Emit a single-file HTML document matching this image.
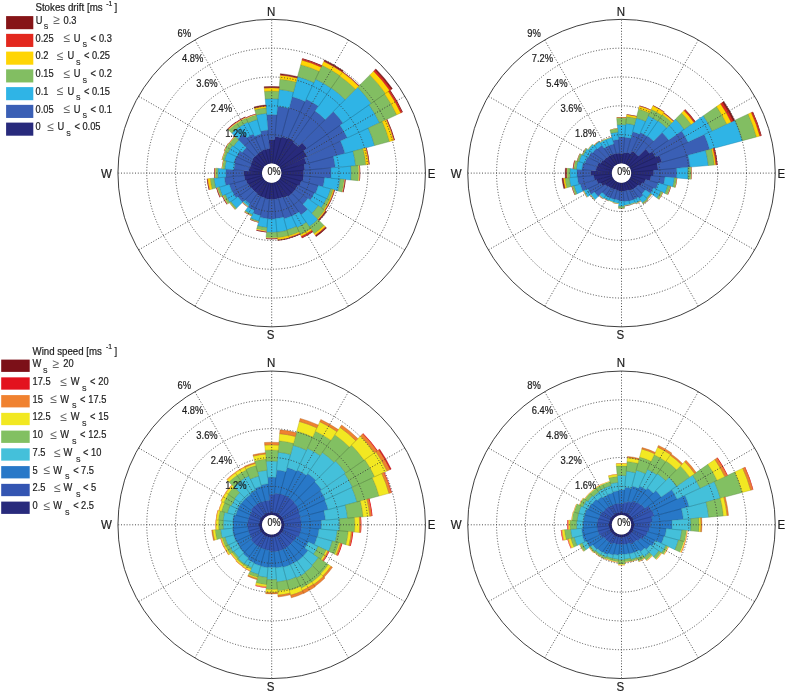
<!DOCTYPE html>
<html><head><meta charset="utf-8"><title>Stokes drift and wind speed roses</title>
<style>
html,body{margin:0;padding:0;background:#fff;overflow:hidden}
svg{display:block}
text{font-family:"Liberation Sans","DejaVu Sans",sans-serif;fill:#1c1c1c;stroke:#1c1c1c;stroke-width:0.2px}
.c{font-size:12.4px;text-anchor:middle}
.z{font-size:10px;text-anchor:middle}
.p{font-size:10px;text-anchor:end}
.l{font-size:10px}
.m{font-size:13px;fill:#666;stroke:none}
.s{font-size:7.2px}
.u{font-size:7px}
.g{fill:none;stroke:#383838;stroke-width:0.9;stroke-dasharray:1 1.8}
.b{stroke-width:0.4;stroke-linejoin:miter}
</style></head>
<body>
<svg width="785" height="692" viewBox="0 0 785 692">
<rect width="785" height="692" fill="#fff"/>
<g>
<path class="b" fill="#282a7c" stroke="#1c1e59" d="M268.78 139.73A33.5 33.5 0 0 1 274.62 139.73L272.55 163.44A9.7 9.7 0 0 0 270.85 163.44ZM274.9 136.54A36.7 36.7 0 0 1 281.2 137.65L274.21 163.73A9.7 9.7 0 0 0 272.55 163.44ZM281.48 136.59A37.8 37.8 0 0 1 287.67 138.84L275.8 164.31A9.7 9.7 0 0 0 274.21 163.73ZM288.14 137.84A38.9 38.9 0 0 1 294.01 141.23L277.26 165.15A9.7 9.7 0 0 0 275.8 164.31ZM293.21 142.38A37.5 37.5 0 0 1 298.22 146.58L278.56 166.24A9.7 9.7 0 0 0 277.26 165.15ZM302.11 142.69A43 43 0 0 1 306.92 148.44L279.65 167.54A9.7 9.7 0 0 0 278.56 166.24ZM303.65 150.73A39 39 0 0 1 307.05 156.62L280.49 169A9.7 9.7 0 0 0 279.65 167.54ZM304.33 157.89A36 36 0 0 1 306.47 163.78L281.07 170.59A9.7 9.7 0 0 0 280.49 169ZM303.87 164.48A33.3 33.3 0 0 1 304.87 170.2L281.36 172.25A9.7 9.7 0 0 0 281.07 170.59ZM303.58 170.31A32 32 0 0 1 303.58 175.89L281.36 173.95A9.7 9.7 0 0 0 281.36 172.25ZM303.58 175.89A32 32 0 0 1 302.61 181.38L281.07 175.61A9.7 9.7 0 0 0 281.36 173.95ZM301.16 180.99A30.5 30.5 0 0 1 299.34 185.99L280.49 177.2A9.7 9.7 0 0 0 281.07 175.61ZM297.8 185.27A28.8 28.8 0 0 1 295.29 189.62L279.65 178.66A9.7 9.7 0 0 0 280.49 177.2ZM295.21 189.56A28.7 28.7 0 0 1 291.99 193.39L278.56 179.96A9.7 9.7 0 0 0 279.65 178.66ZM291.92 193.32A28.6 28.6 0 0 1 288.1 196.53L277.26 181.05A9.7 9.7 0 0 0 278.56 179.96ZM287.47 195.63A27.5 27.5 0 0 1 283.32 198.02L275.8 181.89A9.7 9.7 0 0 0 277.26 181.05ZM282.86 197.03A26.4 26.4 0 0 1 278.53 198.6L274.21 182.47A9.7 9.7 0 0 0 275.8 181.89ZM278.53 198.6A26.4 26.4 0 0 1 274 199.4L272.55 182.76A9.7 9.7 0 0 0 274.21 182.47ZM274 199.4A26.4 26.4 0 0 1 269.4 199.4L270.85 182.76A9.7 9.7 0 0 0 272.55 182.76ZM269.41 199.3A26.3 26.3 0 0 1 264.89 198.5L269.19 182.47A9.7 9.7 0 0 0 270.85 182.76ZM265 198.12A25.9 25.9 0 0 1 260.75 196.57L267.6 181.89A9.7 9.7 0 0 0 269.19 182.47ZM260.84 196.39A25.7 25.7 0 0 1 256.96 194.15L266.14 181.05A9.7 9.7 0 0 0 267.6 181.89ZM257.36 193.58A25 25 0 0 1 254.02 190.78L264.84 179.96A9.7 9.7 0 0 0 266.14 181.05ZM254.02 190.78A25 25 0 0 1 251.22 187.44L263.75 178.66A9.7 9.7 0 0 0 264.84 179.96ZM250.57 187.9A25.8 25.8 0 0 1 248.32 184L262.91 177.2A9.7 9.7 0 0 0 263.75 178.66ZM247.68 184.3A26.5 26.5 0 0 1 246.1 179.96L262.33 175.61A9.7 9.7 0 0 0 262.91 177.2ZM245.04 180.24A27.6 27.6 0 0 1 244.21 175.51L262.04 173.95A9.7 9.7 0 0 0 262.33 175.61ZM243.71 175.55A28.1 28.1 0 0 1 243.71 170.65L262.04 172.25A9.7 9.7 0 0 0 262.04 173.95ZM248.79 171.1A23 23 0 0 1 249.48 167.15L262.33 170.59A9.7 9.7 0 0 0 262.04 172.25ZM250.06 167.3A22.4 22.4 0 0 1 251.4 163.63L262.91 169A9.7 9.7 0 0 0 262.33 170.59ZM250.85 163.38A23 23 0 0 1 252.86 159.91L263.75 167.54A9.7 9.7 0 0 0 262.91 169ZM252.29 159.51A23.7 23.7 0 0 1 254.94 156.34L264.84 166.24A9.7 9.7 0 0 0 263.75 167.54ZM255.08 156.48A23.5 23.5 0 0 1 258.22 153.85L266.14 165.15A9.7 9.7 0 0 0 264.84 166.24ZM257.93 153.44A24 24 0 0 1 261.56 151.35L267.6 164.31A9.7 9.7 0 0 0 266.14 165.15ZM261.26 150.71A24.7 24.7 0 0 1 265.31 149.24L269.19 163.73A9.7 9.7 0 0 0 267.6 164.31ZM265.36 149.43A24.5 24.5 0 0 1 269.56 148.69L270.85 163.44A9.7 9.7 0 0 0 269.19 163.73Z"/>
<path class="b" fill="#3a5fb5" stroke="#294482" d="M266.6 114.82A58.5 58.5 0 0 1 276.8 114.82L274.62 139.73A33.5 33.5 0 0 0 268.78 139.73ZM277.54 106.35A67 67 0 0 1 289.04 108.38L281.2 137.65A36.7 36.7 0 0 0 274.9 136.54ZM292.15 96.79A79 79 0 0 1 305.09 101.5L287.67 138.84A37.8 37.8 0 0 0 281.48 136.59ZM306.14 99.24A81.5 81.5 0 0 1 318.45 106.34L294.01 141.23A38.9 38.9 0 0 0 288.14 137.84ZM315.12 111.09A75.7 75.7 0 0 1 325.23 119.57L298.22 146.58A37.5 37.5 0 0 0 293.21 142.38ZM333.29 111.51A87.1 87.1 0 0 1 343.05 123.14L306.92 148.44A43 43 0 0 0 302.11 142.69ZM340.02 125.26A83.4 83.4 0 0 1 347.29 137.85L307.05 156.62A39 39 0 0 0 303.65 150.73ZM340.49 141.02A75.9 75.9 0 0 1 345.01 153.46L306.47 163.78A36 36 0 0 0 304.33 157.89ZM333.33 156.59A63.8 63.8 0 0 1 335.26 167.54L304.87 170.2A33.3 33.3 0 0 0 303.87 164.48ZM330.87 167.92A59.4 59.4 0 0 1 330.87 178.28L303.58 175.89A32 32 0 0 0 303.58 170.31ZM324.6 177.73A53.1 53.1 0 0 1 322.99 186.84L302.61 181.38A32 32 0 0 0 303.58 175.89ZM318.35 185.6A48.3 48.3 0 0 1 315.47 193.51L299.34 185.99A30.5 30.5 0 0 0 301.16 180.99ZM314.39 193.01A47.1 47.1 0 0 1 310.28 200.12L295.29 189.62A28.8 28.8 0 0 0 297.8 185.27ZM307.91 198.45A44.2 44.2 0 0 1 302.95 204.35L291.99 193.39A28.7 28.7 0 0 0 295.21 189.56ZM307.76 209.16A51 51 0 0 1 300.95 214.88L288.1 196.53A28.6 28.6 0 0 0 291.92 193.32ZM298.94 212.01A47.5 47.5 0 0 1 291.77 216.15L283.32 198.02A27.5 27.5 0 0 0 287.47 195.63ZM291.69 215.97A47.3 47.3 0 0 1 283.94 218.79L278.53 198.6A26.4 26.4 0 0 0 282.86 197.03ZM283.5 217.15A45.6 45.6 0 0 1 275.67 218.53L274 199.4A26.4 26.4 0 0 0 278.53 198.6ZM275.7 218.83A45.9 45.9 0 0 1 267.7 218.83L269.4 199.4A26.4 26.4 0 0 0 274 199.4ZM267.72 218.63A45.7 45.7 0 0 1 259.87 217.24L264.89 198.5A26.3 26.3 0 0 0 269.41 199.3ZM260.31 215.6A44 44 0 0 1 253.1 212.98L260.75 196.57A25.9 25.9 0 0 0 265 198.12ZM254.25 210.53A41.3 41.3 0 0 1 248.01 206.93L256.96 194.15A25.7 25.7 0 0 0 260.84 196.39ZM250.02 204.06A37.8 37.8 0 0 1 244.97 199.83L254.02 190.78A25 25 0 0 0 257.36 193.58ZM242.57 202.23A41.2 41.2 0 0 1 237.95 196.73L251.22 187.44A25 25 0 0 0 254.02 190.78ZM236.15 197.99A43.4 43.4 0 0 1 232.37 191.44L248.32 184A25.8 25.8 0 0 0 250.57 187.9ZM232 191.61A43.8 43.8 0 0 1 229.39 184.44L246.1 179.96A26.5 26.5 0 0 0 247.68 184.3ZM225.82 185.39A47.5 47.5 0 0 1 224.38 177.24L244.21 175.51A27.6 27.6 0 0 0 245.04 180.24ZM225.97 177.1A45.9 45.9 0 0 1 225.97 169.1L243.71 170.65A28.1 28.1 0 0 0 243.71 175.55ZM233.84 169.79A38 38 0 0 1 234.99 163.26L249.48 167.15A23 23 0 0 0 248.79 171.1ZM233.84 162.95A39.2 39.2 0 0 1 236.17 156.53L251.4 163.63A22.4 22.4 0 0 0 250.06 167.3ZM236.81 156.83A38.5 38.5 0 0 1 240.16 151.02L252.86 159.91A23 23 0 0 0 250.85 163.38ZM242.21 152.45A36 36 0 0 1 246.24 147.64L254.94 156.34A23.7 23.7 0 0 0 252.29 159.51ZM237.83 139.23A47.9 47.9 0 0 1 244.23 133.86L258.22 153.85A23.5 23.5 0 0 0 255.08 156.48ZM246.92 137.71A43.2 43.2 0 0 1 253.44 133.95L261.56 151.35A24 24 0 0 0 257.93 153.44ZM254.58 136.39A40.5 40.5 0 0 1 261.22 133.98L265.31 149.24A24.7 24.7 0 0 0 261.26 150.71ZM260.52 131.37A43.2 43.2 0 0 1 267.93 130.06L269.56 148.69A24.5 24.5 0 0 0 265.36 149.43Z"/>
<path class="b" fill="#2fb4e6" stroke="#2181a5" d="M265.21 98.88A74.5 74.5 0 0 1 278.19 98.88L276.8 114.82A58.5 58.5 0 0 0 266.6 114.82ZM279.02 89.42A84 84 0 0 1 293.44 91.96L289.04 108.38A67 67 0 0 0 277.54 106.35ZM297.56 76.6A99.9 99.9 0 0 1 313.92 82.56L305.09 101.5A79 79 0 0 0 292.15 96.79ZM315.53 79.12A103.7 103.7 0 0 1 331.18 88.15L318.45 106.34A81.5 81.5 0 0 0 306.14 99.24ZM331.35 87.91A104 104 0 0 1 345.24 99.56L325.23 119.57A75.7 75.7 0 0 0 315.12 111.09ZM357.61 87.19A121.5 121.5 0 0 1 371.23 103.41L343.05 123.14A87.1 87.1 0 0 0 333.29 111.51ZM369.18 104.84A119 119 0 0 1 379.55 122.81L347.29 137.85A83.4 83.4 0 0 0 340.02 125.26ZM368.31 128.05A106.6 106.6 0 0 1 374.67 145.51L345.01 153.46A75.9 75.9 0 0 0 340.49 141.02ZM353.13 151.28A84.3 84.3 0 0 1 355.68 165.75L335.26 167.54A63.8 63.8 0 0 0 333.33 156.59ZM351 166.16A79.6 79.6 0 0 1 351 180.04L330.87 178.28A59.4 59.4 0 0 0 330.87 167.92ZM340.14 179.09A68.7 68.7 0 0 1 338.06 190.88L322.99 186.84A53.1 53.1 0 0 0 324.6 177.73ZM330.72 188.91A61.1 61.1 0 0 1 327.08 198.92L315.47 193.51A48.3 48.3 0 0 0 318.35 185.6ZM326.62 198.71A60.6 60.6 0 0 1 321.34 207.86L310.28 200.12A47.1 47.1 0 0 0 314.39 193.01ZM318.31 205.74A56.9 56.9 0 0 1 311.93 213.33L302.95 204.35A44.2 44.2 0 0 0 307.91 198.45ZM318.02 219.42A65.5 65.5 0 0 1 309.27 226.75L300.95 214.88A51 51 0 0 0 307.76 209.16ZM306.29 222.49A60.3 60.3 0 0 1 297.18 227.75L291.77 216.15A47.5 47.5 0 0 0 298.94 212.01ZM296.59 226.48A58.9 58.9 0 0 1 286.94 229.99L283.94 218.79A47.3 47.3 0 0 0 291.69 215.97ZM287.07 230.48A59.4 59.4 0 0 1 276.88 232.27L275.67 218.53A45.6 45.6 0 0 0 283.5 217.15ZM276.88 232.27A59.4 59.4 0 0 1 266.52 232.27L267.7 218.83A45.9 45.9 0 0 0 275.7 218.83ZM266.93 227.59A54.7 54.7 0 0 1 257.54 225.94L259.87 217.24A45.7 45.7 0 0 0 267.72 218.63ZM258.81 221.2A49.8 49.8 0 0 1 250.65 218.23L253.1 212.98A44 44 0 0 0 260.31 215.6ZM252.3 214.7A45.9 45.9 0 0 1 245.37 210.7L248.01 206.93A41.3 41.3 0 0 0 254.25 210.53ZM248.53 206.19A40.4 40.4 0 0 1 243.13 201.67L244.97 199.83A37.8 37.8 0 0 0 250.02 204.06ZM236.49 208.31A49.8 49.8 0 0 1 230.91 201.66L237.95 196.73A41.2 41.2 0 0 0 242.57 202.23ZM229.68 202.52A51.3 51.3 0 0 1 225.21 194.78L232.37 191.44A43.4 43.4 0 0 0 236.15 197.99ZM222.49 196.05A54.3 54.3 0 0 1 219.25 187.15L229.39 184.44A43.8 43.8 0 0 0 232 191.61ZM215.68 188.11A58 58 0 0 1 213.92 178.16L224.38 177.24A47.5 47.5 0 0 0 225.82 185.39ZM217.91 177.81A54 54 0 0 1 217.91 168.39L225.97 169.1A45.9 45.9 0 0 0 225.97 177.1ZM224.68 168.99A47.2 47.2 0 0 1 226.11 160.88L234.99 163.26A38 38 0 0 0 233.84 169.79ZM224.37 160.42A49 49 0 0 1 227.29 152.39L236.17 156.53A39.2 39.2 0 0 0 233.84 162.95ZM228.02 152.73A48.2 48.2 0 0 1 232.22 145.45L240.16 151.02A38.5 38.5 0 0 0 236.81 156.83ZM233.36 146.26A46.8 46.8 0 0 1 238.61 140.01L246.24 147.64A36 36 0 0 0 242.21 152.45ZM231.68 133.08A56.6 56.6 0 0 1 239.24 126.74L244.23 133.86A47.9 47.9 0 0 0 237.83 139.23ZM239.35 126.9A56.4 56.4 0 0 1 247.86 121.98L253.44 133.95A43.2 43.2 0 0 0 246.92 137.71ZM248.24 122.8A55.5 55.5 0 0 1 257.34 119.49L261.22 133.98A40.5 40.5 0 0 0 254.58 136.39ZM256.14 115.05A60.1 60.1 0 0 1 266.46 113.23L267.93 130.06A43.2 43.2 0 0 0 260.52 131.37Z"/>
<path class="b" fill="#82be62" stroke="#5d8846" d="M264.54 91.31A82.1 82.1 0 0 1 278.86 91.31L278.19 98.88A74.5 74.5 0 0 0 265.21 98.88ZM279.92 79.16A94.3 94.3 0 0 1 296.11 82.01L293.44 91.96A84 84 0 0 0 279.02 89.42ZM300.77 64.63A112.3 112.3 0 0 1 319.16 71.32L313.92 82.56A99.9 99.9 0 0 0 297.56 76.6ZM321.99 65.25A119 119 0 0 1 339.96 75.62L331.18 88.15A103.7 103.7 0 0 0 315.53 79.12ZM339.73 75.95A118.6 118.6 0 0 1 355.56 89.24L345.24 99.56A104 104 0 0 0 331.35 87.91ZM369.92 74.88A138.9 138.9 0 0 1 385.48 93.43L371.23 103.41A121.5 121.5 0 0 0 357.61 87.19ZM384.74 93.95A138 138 0 0 1 396.77 114.78L379.55 122.81A119 119 0 0 0 369.18 104.84ZM382.27 121.54A122 122 0 0 1 389.54 141.52L374.67 145.51A106.6 106.6 0 0 0 368.31 128.05ZM363.08 148.62A94.6 94.6 0 0 1 365.94 164.86L355.68 165.75A84.3 84.3 0 0 0 353.13 151.28ZM358.37 165.52A87 87 0 0 1 358.37 180.68L351 180.04A79.6 79.6 0 0 0 351 166.16ZM344.22 179.44A72.8 72.8 0 0 1 342.02 191.94L338.06 190.88A68.7 68.7 0 0 0 340.14 179.09ZM333.13 189.56A63.6 63.6 0 0 1 329.34 199.98L327.08 198.92A61.1 61.1 0 0 0 330.72 188.91ZM329.34 199.98A63.6 63.6 0 0 1 323.8 209.58L321.34 207.86A60.6 60.6 0 0 0 326.62 198.71ZM324.78 210.27A64.8 64.8 0 0 1 317.52 218.92L311.93 213.33A56.9 56.9 0 0 0 318.31 205.74ZM324.03 225.43A74 74 0 0 1 314.14 233.72L309.27 226.75A65.5 65.5 0 0 0 318.02 219.42ZM310.7 228.8A68 68 0 0 1 300.44 234.73L297.18 227.75A60.3 60.3 0 0 0 306.29 222.49ZM299.17 232.01A65 65 0 0 1 288.52 235.89L286.94 229.99A58.9 58.9 0 0 0 296.59 226.48ZM288.5 235.79A64.9 64.9 0 0 1 277.36 237.75L276.88 232.27A59.4 59.4 0 0 0 287.07 230.48ZM277.34 237.55A64.7 64.7 0 0 1 266.06 237.55L266.52 232.27A59.4 59.4 0 0 0 276.88 232.27ZM266.64 230.88A58 58 0 0 1 256.69 229.12L257.54 225.94A54.7 54.7 0 0 0 266.93 227.59ZM258.58 222.07A50.7 50.7 0 0 1 250.27 219.05L250.65 218.23A49.8 49.8 0 0 0 258.81 221.2ZM251.84 215.7A47 47 0 0 1 244.74 211.6L245.37 210.7A45.9 45.9 0 0 0 252.3 214.7ZM235.5 209.3A51.2 51.2 0 0 1 229.76 202.47L230.91 201.66A49.8 49.8 0 0 0 236.49 208.31ZM227.79 203.84A53.6 53.6 0 0 1 223.12 195.75L225.21 194.78A51.3 51.3 0 0 0 229.68 202.52ZM220.77 196.85A56.2 56.2 0 0 1 217.41 187.65L219.25 187.15A54.3 54.3 0 0 0 222.49 196.05ZM212.01 189.1A61.8 61.8 0 0 1 210.14 178.49L213.92 178.16A58 58 0 0 0 215.68 188.11ZM215.71 178A56.2 56.2 0 0 1 215.71 168.2L217.91 168.39A54 54 0 0 0 217.91 177.81ZM222.29 168.78A49.6 49.6 0 0 1 223.79 160.26L226.11 160.88A47.2 47.2 0 0 0 224.68 168.99ZM222.44 159.9A51 51 0 0 1 225.48 151.55L227.29 152.39A49 49 0 0 0 224.37 160.42ZM224.57 151.12A52 52 0 0 1 229.1 143.27L232.22 145.45A48.2 48.2 0 0 0 228.02 152.73ZM229.6 143.62A51.4 51.4 0 0 1 235.35 136.75L238.61 140.01A46.8 46.8 0 0 0 233.36 146.26ZM228.57 129.97A61 61 0 0 1 236.71 123.13L239.24 126.74A56.6 56.6 0 0 0 231.68 133.08ZM236.88 123.38A60.7 60.7 0 0 1 246.05 118.09L247.86 121.98A56.4 56.4 0 0 0 239.35 126.9ZM246.3 118.63A60.1 60.1 0 0 1 256.14 115.05L257.34 119.49A55.5 55.5 0 0 0 248.24 122.8ZM254.75 109.83A65.5 65.5 0 0 1 265.99 107.85L266.46 113.23A60.1 60.1 0 0 0 256.14 115.05Z"/>
<path fill="#82be62" d="M248.07 206.85A41.2 41.2 0 0 1 242.57 202.23L243.13 201.67A40.4 40.4 0 0 0 248.53 206.19Z"/>
<path class="b" fill="#ffd504" stroke="#b79902" d="M264.27 88.22A85.2 85.2 0 0 1 279.13 88.22L278.86 91.31A82.1 82.1 0 0 0 264.54 91.31ZM280.27 75.17A98.3 98.3 0 0 1 297.14 78.15L296.11 82.01A94.3 94.3 0 0 0 279.92 79.16ZM301.98 60.09A117 117 0 0 1 321.15 67.06L319.16 71.32A112.3 112.3 0 0 0 300.77 64.63ZM323.77 61.44A123.2 123.2 0 0 1 342.36 72.18L339.96 75.62A119 119 0 0 0 321.99 65.25ZM342.25 72.34A123 123 0 0 1 358.67 86.13L355.56 89.24A118.6 118.6 0 0 0 339.73 75.95ZM373.66 71.14A144.2 144.2 0 0 1 389.82 90.39L385.48 93.43A138.9 138.9 0 0 0 369.92 74.88ZM388.43 91.37A142.5 142.5 0 0 1 400.85 112.88L396.77 114.78A138 138 0 0 0 384.74 93.95ZM386.26 119.68A126.4 126.4 0 0 1 393.79 140.39L389.54 141.52A122 122 0 0 0 382.27 121.54ZM365.78 147.89A97.4 97.4 0 0 1 368.73 164.61L365.94 164.86A94.6 94.6 0 0 0 363.08 148.62ZM334.1 189.82A64.6 64.6 0 0 1 330.25 200.4L329.34 199.98A63.6 63.6 0 0 0 333.13 189.56ZM330.25 200.4A64.6 64.6 0 0 1 324.62 210.15L323.8 209.58A63.6 63.6 0 0 0 329.34 199.98ZM325.6 210.84A65.8 65.8 0 0 1 318.23 219.63L317.52 218.92A64.8 64.8 0 0 0 324.78 210.27ZM325.44 226.84A76 76 0 0 1 315.29 235.36L314.14 233.72A74 74 0 0 0 324.03 225.43ZM311.85 230.44A70 70 0 0 1 301.28 236.54L300.44 234.73A68 68 0 0 0 310.7 228.8ZM299.8 233.37A66.5 66.5 0 0 1 288.91 237.33L288.52 235.89A65 65 0 0 0 299.17 232.01ZM289.01 237.72A66.9 66.9 0 0 1 277.53 239.75L277.36 237.75A64.9 64.9 0 0 0 288.5 235.79ZM209.69 189.72A64.2 64.2 0 0 1 207.74 178.7L210.14 178.49A61.8 61.8 0 0 0 212.01 189.1ZM254.33 108.29A67.1 67.1 0 0 1 265.85 106.26L265.99 107.85A65.5 65.5 0 0 0 254.75 109.83Z"/>
<path fill="#ffd504" d="M359.17 165.45A87.8 87.8 0 0 1 359.17 180.75L358.37 180.68A87 87 0 0 0 358.37 165.52ZM344.62 179.48A73.2 73.2 0 0 1 342.41 192.05L342.02 191.94A72.8 72.8 0 0 0 344.22 179.44ZM277.38 238.05A65.2 65.2 0 0 1 266.02 238.05L266.06 237.55A64.7 64.7 0 0 0 277.34 237.55ZM266.59 231.48A58.6 58.6 0 0 1 256.53 229.7L256.69 229.12A58 58 0 0 0 266.64 230.88ZM258.53 222.27A50.9 50.9 0 0 1 250.19 219.23L250.27 219.05A50.7 50.7 0 0 0 258.58 222.07ZM251.71 215.97A47.3 47.3 0 0 1 244.57 211.85L244.74 211.6A47 47 0 0 0 251.84 215.7ZM247.95 207.01A41.4 41.4 0 0 1 242.43 202.37L242.57 202.23A41.2 41.2 0 0 0 248.07 206.85ZM235.28 209.52A51.5 51.5 0 0 1 229.51 202.64L229.76 202.47A51.2 51.2 0 0 0 235.5 209.3ZM227.47 204.07A54 54 0 0 1 222.76 195.92L223.12 195.75A53.6 53.6 0 0 0 227.79 203.84ZM220.4 197.02A56.6 56.6 0 0 1 217.03 187.75L217.41 187.65A56.2 56.2 0 0 0 220.77 196.85ZM215.32 178.03A56.6 56.6 0 0 1 215.32 168.17L215.71 168.2A56.2 56.2 0 0 0 215.71 178ZM221.89 168.74A50 50 0 0 1 223.4 160.16L223.79 160.26A49.6 49.6 0 0 0 222.29 168.78ZM221.95 159.77A51.5 51.5 0 0 1 225.03 151.34L225.48 151.55A51 51 0 0 0 222.44 159.9ZM224.12 150.91A52.5 52.5 0 0 1 228.69 142.99L229.1 143.27A52 52 0 0 0 224.57 151.12ZM229.19 143.33A51.9 51.9 0 0 1 235 136.4L235.35 136.75A51.4 51.4 0 0 0 229.6 143.62ZM228.14 129.54A61.6 61.6 0 0 1 236.37 122.64L236.71 123.13A61 61 0 0 0 228.57 129.97ZM236.54 122.89A61.3 61.3 0 0 1 245.79 117.54L246.05 118.09A60.7 60.7 0 0 0 236.88 123.38ZM246.09 118.18A60.6 60.6 0 0 1 256.02 114.56L256.14 115.05A60.1 60.1 0 0 0 246.3 118.63Z"/>
<path class="b" fill="#e3281e" stroke="#a31c15" d="M302.29 58.95A118.18 118.18 0 0 1 321.64 65.99L321.15 67.06A117 117 0 0 0 301.98 60.09ZM375.02 69.78A146.12 146.12 0 0 1 391.4 89.29L389.82 90.39A144.2 144.2 0 0 0 373.66 71.14ZM389.55 90.58A143.86 143.86 0 0 1 402.09 112.3L400.85 112.88A142.5 142.5 0 0 0 388.43 91.37ZM312.56 231.46A71.24 71.24 0 0 1 301.81 237.67L301.28 236.54A70 70 0 0 0 311.85 230.44Z"/>
<path fill="#e3281e" d="M264.24 87.78A85.65 85.65 0 0 1 279.16 87.78L279.13 88.22A85.2 85.2 0 0 0 264.27 88.22ZM280.31 74.73A98.75 98.75 0 0 1 297.26 77.71L297.14 78.15A98.3 98.3 0 0 0 280.27 75.17ZM323.97 61.01A123.68 123.68 0 0 1 342.64 71.79L342.36 72.18A123.2 123.2 0 0 0 323.77 61.44ZM342.4 72.12A123.27 123.27 0 0 1 358.87 85.93L358.67 86.13A123 123 0 0 0 342.25 72.34ZM386.58 119.53A126.76 126.76 0 0 1 394.14 140.29L393.79 140.39A126.4 126.4 0 0 0 386.26 119.68ZM366.07 147.81A97.7 97.7 0 0 1 369.03 164.58L368.73 164.61A97.4 97.4 0 0 0 365.78 147.89ZM359.4 165.43A88.04 88.04 0 0 1 359.4 180.77L359.17 180.75A87.8 87.8 0 0 0 359.17 165.45ZM344.98 179.51A73.56 73.56 0 0 1 342.75 192.14L342.41 192.05A73.2 73.2 0 0 0 344.62 179.48ZM334.39 189.9A64.9 64.9 0 0 1 330.52 200.53L330.25 200.4A64.6 64.6 0 0 0 334.1 189.82ZM330.52 200.53A64.9 64.9 0 0 1 324.86 210.33L324.62 210.15A64.6 64.6 0 0 0 330.25 200.4ZM325.92 211.07A66.19 66.19 0 0 1 318.5 219.9L318.23 219.63A65.8 65.8 0 0 0 325.6 210.84ZM325.76 227.16A76.45 76.45 0 0 1 315.55 235.72L315.29 235.36A76 76 0 0 0 325.44 226.84ZM299.96 233.7A66.86 66.86 0 0 1 289 237.68L288.91 237.33A66.5 66.5 0 0 0 299.8 233.37ZM289.09 238.01A67.2 67.2 0 0 1 277.56 240.04L277.53 239.75A66.9 66.9 0 0 0 289.01 237.72ZM277.41 238.35A65.5 65.5 0 0 1 265.99 238.35L266.02 238.05A65.2 65.2 0 0 0 277.38 238.05ZM266.57 231.78A58.9 58.9 0 0 1 256.46 229.99L256.53 229.7A58.6 58.6 0 0 0 266.59 231.48ZM258.49 222.41A51.05 51.05 0 0 1 250.13 219.37L250.19 219.23A50.9 50.9 0 0 0 258.53 222.27ZM251.66 216.08A47.42 47.42 0 0 1 244.5 211.94L244.57 211.85A47.3 47.3 0 0 0 251.71 215.97ZM247.89 207.11A41.52 41.52 0 0 1 242.34 202.46L242.43 202.37A41.4 41.4 0 0 0 247.95 207.01ZM235.22 209.58A51.59 51.59 0 0 1 229.44 202.69L229.51 202.64A51.5 51.5 0 0 0 235.28 209.52ZM227.24 204.23A54.27 54.27 0 0 1 222.51 196.04L222.76 195.92A54 54 0 0 0 227.47 204.07ZM220.16 197.13A56.87 56.87 0 0 1 216.77 187.82L217.03 187.75A56.6 56.6 0 0 0 220.4 197.02ZM209.4 189.79A64.5 64.5 0 0 1 207.45 178.72L207.74 178.7A64.2 64.2 0 0 0 209.69 189.72ZM215.05 178.06A56.87 56.87 0 0 1 215.05 168.14L215.32 168.17A56.6 56.6 0 0 0 215.32 178.03ZM221.8 168.73A50.09 50.09 0 0 1 223.32 160.14L223.4 160.16A50 50 0 0 0 221.89 168.74ZM221.84 159.74A51.62 51.62 0 0 1 224.92 151.28L225.03 151.34A51.5 51.5 0 0 0 221.95 159.77ZM224.01 150.86A52.62 52.62 0 0 1 228.6 142.92L228.69 142.99A52.5 52.5 0 0 0 224.12 150.91ZM229.09 143.26A52.02 52.02 0 0 1 234.92 136.32L235 136.4A51.9 51.9 0 0 0 229.19 143.33ZM227.93 129.33A61.9 61.9 0 0 1 236.2 122.39L236.37 122.64A61.6 61.6 0 0 0 228.14 129.54ZM236.35 122.62A61.63 61.63 0 0 1 245.65 117.24L245.79 117.54A61.3 61.3 0 0 0 236.54 122.89ZM245.99 117.96A60.84 60.84 0 0 1 255.95 114.33L256.02 114.56A60.6 60.6 0 0 0 246.09 118.18ZM254.23 107.91A67.49 67.49 0 0 1 265.82 105.87L265.85 106.26A67.1 67.1 0 0 0 254.33 108.29Z"/>
<path class="b" fill="#861417" stroke="#600e10" d="M264.14 86.73A86.7 86.7 0 0 1 279.26 86.73L279.16 87.78A85.65 85.65 0 0 0 264.24 87.78ZM280.4 73.68A99.8 99.8 0 0 1 297.53 76.7L297.26 77.71A98.75 98.75 0 0 0 280.31 74.73ZM324.44 59.99A124.8 124.8 0 0 1 343.28 70.87L342.64 71.79A123.68 123.68 0 0 0 323.97 61.01ZM375.86 68.94A147.3 147.3 0 0 1 392.36 88.61L391.4 89.29A146.12 146.12 0 0 0 375.02 69.78ZM326.67 211.59A67.1 67.1 0 0 1 319.15 220.55L318.5 219.9A66.19 66.19 0 0 0 325.92 211.07ZM326.5 227.9A77.5 77.5 0 0 1 316.15 236.58L315.55 235.72A76.45 76.45 0 0 0 325.76 227.16ZM254 107.03A68.4 68.4 0 0 1 265.74 104.96L265.82 105.87A67.49 67.49 0 0 0 254.23 107.91Z"/>
<path fill="#861417" d="M302.47 58.25A118.9 118.9 0 0 1 321.95 65.34L321.64 65.99A118.18 118.18 0 0 0 302.29 58.95ZM342.77 71.61A123.9 123.9 0 0 1 359.31 85.49L358.87 85.93A123.27 123.27 0 0 0 342.4 72.12ZM390.23 90.1A144.7 144.7 0 0 1 402.84 111.95L402.09 112.3A143.86 143.86 0 0 0 389.55 90.58ZM387.34 119.17A127.6 127.6 0 0 1 394.95 140.07L394.14 140.29A126.76 126.76 0 0 0 386.58 119.53ZM366.75 147.63A98.4 98.4 0 0 1 369.73 164.52L369.03 164.58A97.7 97.7 0 0 0 366.07 147.81ZM359.96 165.38A88.6 88.6 0 0 1 359.96 180.82L359.4 180.77A88.04 88.04 0 0 0 359.4 165.43ZM345.82 179.58A74.4 74.4 0 0 1 343.56 192.36L342.75 192.14A73.56 73.56 0 0 0 344.98 179.51ZM335.06 190.08A65.6 65.6 0 0 1 331.15 200.82L330.52 200.53A64.9 64.9 0 0 0 334.39 189.9ZM331.15 200.82A65.6 65.6 0 0 1 325.44 210.73L324.86 210.33A64.9 64.9 0 0 0 330.52 200.53ZM313 232.08A72 72 0 0 1 302.13 238.35L301.81 237.67A71.24 71.24 0 0 0 312.56 231.46ZM300.31 234.46A67.7 67.7 0 0 1 289.22 238.49L289 237.68A66.86 66.86 0 0 0 299.96 233.7ZM289.27 238.69A67.9 67.9 0 0 1 277.62 240.74L277.56 240.04A67.2 67.2 0 0 0 289.09 238.01ZM277.47 239.05A66.2 66.2 0 0 1 265.93 239.05L265.99 238.35A65.5 65.5 0 0 0 277.41 238.35ZM266.51 232.47A59.6 59.6 0 0 1 256.27 230.67L256.46 229.99A58.9 58.9 0 0 0 266.57 231.78ZM258.4 222.75A51.4 51.4 0 0 1 249.98 219.68L250.13 219.37A51.05 51.05 0 0 0 258.49 222.41ZM251.54 216.33A47.7 47.7 0 0 1 244.34 212.17L244.5 211.94A47.42 47.42 0 0 0 251.66 216.08ZM247.72 207.34A41.8 41.8 0 0 1 242.14 202.66L242.34 202.46A41.52 41.52 0 0 0 247.89 207.11ZM235.07 209.73A51.8 51.8 0 0 1 229.27 202.81L229.44 202.69A51.59 51.59 0 0 0 235.22 209.58ZM226.73 204.59A54.9 54.9 0 0 1 221.94 196.3L222.51 196.04A54.27 54.27 0 0 0 227.24 204.23ZM219.59 197.4A57.5 57.5 0 0 1 216.16 187.98L216.77 187.82A56.87 56.87 0 0 0 220.16 197.13ZM208.72 189.98A65.2 65.2 0 0 1 206.75 178.78L207.45 178.72A64.5 64.5 0 0 0 209.4 189.79ZM214.42 178.11A57.5 57.5 0 0 1 214.42 168.09L215.05 168.14A56.87 56.87 0 0 0 215.05 178.06ZM221.59 168.72A50.3 50.3 0 0 1 223.11 160.08L223.32 160.14A50.09 50.09 0 0 0 221.8 168.73ZM221.57 159.67A51.9 51.9 0 0 1 224.66 151.17L224.92 151.28A51.62 51.62 0 0 0 221.84 159.74ZM223.76 150.74A52.9 52.9 0 0 1 228.37 142.76L228.6 142.92A52.62 52.62 0 0 0 224.01 150.86ZM228.86 143.1A52.3 52.3 0 0 1 234.72 136.12L234.92 136.32A52.02 52.02 0 0 0 229.09 143.26ZM227.44 128.84A62.6 62.6 0 0 1 235.79 121.82L236.2 122.39A61.9 61.9 0 0 0 227.93 129.33ZM235.91 121.98A62.4 62.4 0 0 1 245.33 116.55L245.65 117.24A61.63 61.63 0 0 0 236.35 122.62ZM245.75 117.45A61.4 61.4 0 0 1 255.81 113.79L255.95 114.33A60.84 60.84 0 0 0 245.99 117.96Z"/>
<circle class="g" cx="271.7" cy="173.1" r="38.51"/>
<circle class="g" cx="271.7" cy="173.1" r="67.32"/>
<circle class="g" cx="271.7" cy="173.1" r="96.13"/>
<circle class="g" cx="271.7" cy="173.1" r="124.94"/>
<path class="g" d="M271.7 163.4L271.7 19.35M276.55 164.7L348.57 39.95M280.1 168.25L404.85 96.22M281.4 173.1L425.45 173.1M280.1 177.95L404.85 249.97M276.55 181.5L348.57 306.25M271.7 182.8L271.7 326.85M266.85 181.5L194.82 306.25M263.3 177.95L138.55 249.98M262 173.1L117.95 173.1M263.3 168.25L138.55 96.22M266.85 164.7L194.82 39.95"/>
<circle cx="271.7" cy="173.1" r="9.7" fill="#fff"/>
<circle cx="271.7" cy="173.1" r="153.75" fill="none" stroke="#2a2a2a" stroke-width="0.9"/>
<text class="c" transform="translate(271.1 15.75) scale(.93 1)">N</text>
<text class="c" transform="translate(270.5 338.95) scale(.93 1)">S</text>
<text class="c" transform="translate(431.6 177.7) scale(.93 1)">E</text>
<text class="c" transform="translate(106.5 177.7) scale(.93 1)">W</text>
<text class="z" transform="translate(274 174.7) scale(.9 1)">0%</text>
<text class="p" transform="translate(246.54 136.95) scale(.94 1)">1.2%</text>
<text class="p" transform="translate(232.14 112) scale(.94 1)">2.4%</text>
<text class="p" transform="translate(217.73 87.05) scale(.94 1)">3.6%</text>
<text class="p" transform="translate(203.33 62.1) scale(.94 1)">4.8%</text>
<text class="p" transform="translate(191.12 36.95) scale(.94 1)">6%</text>
</g>
<g>
<path class="b" fill="#282a7c" stroke="#1c1e59" d="M619.79 153.57A19.6 19.6 0 0 1 623.21 153.57L622.35 163.44A9.7 9.7 0 0 0 620.65 163.44ZM623.3 152.48A20.7 20.7 0 0 1 626.86 153.11L624.01 163.73A9.7 9.7 0 0 0 622.35 163.44ZM627.04 152.43A21.4 21.4 0 0 1 630.54 153.71L625.6 164.31A9.7 9.7 0 0 0 624.01 163.73ZM631.85 150.9A24.5 24.5 0 0 1 635.55 153.03L627.06 165.15A9.7 9.7 0 0 0 625.6 164.31ZM635.27 153.44A24 24 0 0 1 638.47 156.13L628.36 166.24A9.7 9.7 0 0 0 627.06 165.15ZM645.68 148.92A34.2 34.2 0 0 1 649.51 153.48L629.45 167.54A9.7 9.7 0 0 0 628.36 166.24ZM652.22 151.59A37.5 37.5 0 0 1 655.49 157.25L630.29 169A9.7 9.7 0 0 0 629.45 167.54ZM659.29 155.48A41.7 41.7 0 0 1 661.78 162.31L630.87 170.59A9.7 9.7 0 0 0 630.29 169ZM656.95 163.6A36.7 36.7 0 0 1 658.06 169.9L631.16 172.25A9.7 9.7 0 0 0 630.87 170.59ZM653.58 170.29A32.2 32.2 0 0 1 653.58 175.91L631.16 173.95A9.7 9.7 0 0 0 631.16 172.25ZM650.99 175.68A29.6 29.6 0 0 1 650.09 180.76L630.87 175.61A9.7 9.7 0 0 0 631.16 173.95ZM645.45 179.52A24.8 24.8 0 0 1 643.98 183.58L630.29 177.2A9.7 9.7 0 0 0 630.87 175.61ZM642.16 182.74A22.8 22.8 0 0 1 640.18 186.18L629.45 178.66A9.7 9.7 0 0 0 630.29 177.2ZM638.13 184.74A20.3 20.3 0 0 1 635.85 187.45L628.36 179.96A9.7 9.7 0 0 0 629.45 178.66ZM635.57 187.17A19.9 19.9 0 0 1 632.91 189.4L627.06 181.05A9.7 9.7 0 0 0 628.36 179.96ZM632.68 189.07A19.5 19.5 0 0 1 629.74 190.77L625.6 181.89A9.7 9.7 0 0 0 627.06 181.05ZM629.28 189.78A18.4 18.4 0 0 1 626.26 190.87L624.01 182.47A9.7 9.7 0 0 0 625.6 181.89ZM626.21 190.68A18.2 18.2 0 0 1 623.09 191.23L622.35 182.76A9.7 9.7 0 0 0 624.01 182.47ZM623.09 191.23A18.2 18.2 0 0 1 619.91 191.23L620.65 182.76A9.7 9.7 0 0 0 622.35 182.76ZM619.92 191.13A18.1 18.1 0 0 1 616.82 190.58L618.99 182.47A9.7 9.7 0 0 0 620.65 182.76ZM616.94 190.1A17.6 17.6 0 0 1 614.06 189.05L617.4 181.89A9.7 9.7 0 0 0 618.99 182.47ZM613.94 189.32A17.9 17.9 0 0 1 611.23 187.76L615.94 181.05A9.7 9.7 0 0 0 617.4 181.89ZM610.83 188.34A18.6 18.6 0 0 1 608.35 186.25L614.64 179.96A9.7 9.7 0 0 0 615.94 181.05ZM607.5 187.1A19.8 19.8 0 0 1 605.28 184.46L613.55 178.66A9.7 9.7 0 0 0 614.64 179.96ZM602.82 186.18A22.8 22.8 0 0 1 600.84 182.74L612.71 177.2A9.7 9.7 0 0 0 613.55 178.66ZM598.21 183.96A25.7 25.7 0 0 1 596.68 179.75L612.13 175.61A9.7 9.7 0 0 0 612.71 177.2ZM594.65 180.3A27.8 27.8 0 0 1 593.81 175.52L611.84 173.95A9.7 9.7 0 0 0 612.13 175.61ZM590.72 175.79A30.9 30.9 0 0 1 590.72 170.41L611.84 172.25A9.7 9.7 0 0 0 611.84 173.95ZM595.9 170.86A25.7 25.7 0 0 1 596.68 166.45L612.13 170.59A9.7 9.7 0 0 0 611.84 172.25ZM597.26 166.6A25.1 25.1 0 0 1 598.75 162.49L612.71 169A9.7 9.7 0 0 0 612.13 170.59ZM600.65 163.38A23 23 0 0 1 602.66 159.91L613.55 167.54A9.7 9.7 0 0 0 612.71 169ZM603.72 160.65A21.7 21.7 0 0 1 606.16 157.76L614.64 166.24A9.7 9.7 0 0 0 613.55 167.54ZM606.51 158.11A21.2 21.2 0 0 1 609.34 155.73L615.94 165.15A9.7 9.7 0 0 0 614.64 166.24ZM609.51 155.98A20.9 20.9 0 0 1 612.67 154.16L617.4 164.31A9.7 9.7 0 0 0 615.94 165.15ZM612.79 154.43A20.6 20.6 0 0 1 616.17 153.2L618.99 163.73A9.7 9.7 0 0 0 617.4 164.31ZM616.25 153.49A20.3 20.3 0 0 1 619.73 152.88L620.65 163.44A9.7 9.7 0 0 0 618.99 163.73Z"/>
<path class="b" fill="#3a5fb5" stroke="#294482" d="M618.34 136.94A36.3 36.3 0 0 1 624.66 136.94L623.21 153.57A19.6 19.6 0 0 0 619.79 153.57ZM624.64 137.24A36 36 0 0 1 630.82 138.33L626.86 153.11A20.7 20.7 0 0 0 623.3 152.48ZM632.58 131.76A42.8 42.8 0 0 1 639.59 134.31L630.54 153.71A21.4 21.4 0 0 0 627.04 152.43ZM640.43 132.5A44.8 44.8 0 0 1 647.2 136.4L635.55 153.03A24.5 24.5 0 0 0 631.85 150.9ZM647.48 135.99A45.3 45.3 0 0 1 653.53 141.07L638.47 156.13A24 24 0 0 0 635.27 153.44ZM662.16 132.44A57.5 57.5 0 0 1 668.6 140.12L649.51 153.48A34.2 34.2 0 0 0 645.68 148.92ZM681.63 131A73.4 73.4 0 0 1 688.02 142.08L655.49 157.25A37.5 37.5 0 0 0 652.22 151.59ZM704.25 134.51A91.3 91.3 0 0 1 709.69 149.47L661.78 162.31A41.7 41.7 0 0 0 659.29 155.48ZM688.05 155.27A68.9 68.9 0 0 1 690.14 167.09L658.06 169.9A36.7 36.7 0 0 0 656.95 163.6ZM676.69 168.27A55.4 55.4 0 0 1 676.69 177.93L653.58 175.91A32.2 32.2 0 0 0 653.58 170.29ZM664.93 176.9A43.6 43.6 0 0 1 663.61 184.38L650.09 180.76A29.6 29.6 0 0 0 650.99 175.68ZM658.11 182.91A37.9 37.9 0 0 1 655.85 189.12L643.98 183.58A24.8 24.8 0 0 0 645.45 179.52ZM653.49 188.02A35.3 35.3 0 0 1 650.42 193.35L640.18 186.18A22.8 22.8 0 0 0 642.16 182.74ZM645.34 189.79A29.1 29.1 0 0 1 642.08 193.68L635.85 187.45A20.3 20.3 0 0 0 638.13 184.74ZM643.35 194.95A30.9 30.9 0 0 1 639.22 198.41L632.91 189.4A19.9 19.9 0 0 0 635.57 187.17ZM638.31 197.1A29.3 29.3 0 0 1 633.88 199.65L629.74 190.77A19.5 19.5 0 0 0 632.68 189.07ZM633.8 199.47A29.1 29.1 0 0 1 629.03 201.21L626.26 190.87A18.4 18.4 0 0 0 629.28 189.78ZM628.9 200.73A28.6 28.6 0 0 1 623.99 201.59L623.09 191.23A18.2 18.2 0 0 0 626.21 190.68ZM623.96 201.19A28.2 28.2 0 0 1 619.04 201.19L619.91 191.23A18.2 18.2 0 0 0 623.09 191.23ZM619.13 200.2A27.2 27.2 0 0 1 614.46 199.37L616.82 190.58A18.1 18.1 0 0 0 619.92 191.13ZM614.43 199.47A27.3 27.3 0 0 1 609.96 197.84L614.06 189.05A17.6 17.6 0 0 0 616.94 190.1ZM609.84 198.11A27.6 27.6 0 0 1 605.67 195.71L611.23 187.76A17.9 17.9 0 0 0 613.94 189.32ZM605.73 195.63A27.5 27.5 0 0 1 602.05 192.55L608.35 186.25A18.6 18.6 0 0 0 610.83 188.34ZM598.17 196.43A33 33 0 0 1 594.47 192.03L605.28 184.46A19.8 19.8 0 0 0 607.5 187.1ZM591.03 194.44A37.2 37.2 0 0 1 587.79 188.82L600.84 182.74A22.8 22.8 0 0 0 602.82 186.18ZM582.8 191.15A42.7 42.7 0 0 1 580.25 184.15L596.68 179.75A25.7 25.7 0 0 0 598.21 183.96ZM578.71 184.57A44.3 44.3 0 0 1 577.37 176.96L593.81 175.52A27.8 27.8 0 0 0 594.65 180.3ZM577.07 176.99A44.6 44.6 0 0 1 577.07 169.21L590.72 170.41A30.9 30.9 0 0 0 590.72 175.79ZM581.85 169.63A39.8 39.8 0 0 1 583.06 162.8L596.68 166.45A25.7 25.7 0 0 0 595.9 170.86ZM584.99 163.32A37.8 37.8 0 0 1 587.24 157.13L598.75 162.49A25.1 25.1 0 0 0 597.26 166.6ZM588.15 157.55A36.8 36.8 0 0 1 591.36 151.99L602.66 159.91A23 23 0 0 0 600.65 163.38ZM592.67 152.91A35.2 35.2 0 0 1 596.61 148.21L606.16 157.76A21.7 21.7 0 0 0 603.72 160.65ZM597.46 149.06A34 34 0 0 1 602 145.25L609.34 155.73A21.2 21.2 0 0 0 606.51 158.11ZM604.06 148.2A30.4 30.4 0 0 1 608.65 145.55L612.67 154.16A20.9 20.9 0 0 0 609.51 155.98ZM608.74 145.73A30.2 30.2 0 0 1 613.68 143.93L616.17 153.2A20.6 20.6 0 0 0 612.79 154.43ZM612.78 140.55A33.7 33.7 0 0 1 618.56 139.53L619.73 152.88A20.3 20.3 0 0 0 616.25 153.49Z"/>
<path class="b" fill="#2fb4e6" stroke="#2181a5" d="M617.27 124.78A48.5 48.5 0 0 1 625.73 124.78L624.66 136.94A36.3 36.3 0 0 0 618.34 136.94ZM625.84 123.49A49.8 49.8 0 0 1 634.39 125L630.82 138.33A36 36 0 0 0 624.64 137.24ZM636.28 117.95A57.1 57.1 0 0 1 645.63 121.35L639.59 134.31A42.8 42.8 0 0 0 632.58 131.76ZM648.29 115.64A63.4 63.4 0 0 1 657.86 121.17L647.2 136.4A44.8 44.8 0 0 0 640.43 132.5ZM658.15 120.76A63.9 63.9 0 0 1 666.68 127.92L653.53 141.07A45.3 45.3 0 0 0 647.48 135.99ZM675.59 119.01A76.5 76.5 0 0 1 684.17 129.22L668.6 140.12A57.5 57.5 0 0 0 662.16 132.44ZM703.42 115.74A100 100 0 0 1 712.13 130.84L688.02 142.08A73.4 73.4 0 0 0 681.63 131ZM735.06 120.15A125.3 125.3 0 0 1 742.53 140.67L709.69 149.47A91.3 91.3 0 0 0 704.25 134.51ZM705.73 150.53A87.2 87.2 0 0 1 708.37 165.5L690.14 167.09A68.9 68.9 0 0 0 688.05 155.27ZM687.95 167.29A66.7 66.7 0 0 1 687.95 178.91L676.69 177.93A55.4 55.4 0 0 0 676.69 168.27ZM674.5 177.74A53.2 53.2 0 0 1 672.89 186.87L663.61 184.38A43.6 43.6 0 0 0 664.93 176.9ZM667.86 185.52A48 48 0 0 1 665 193.39L655.85 189.12A37.9 37.9 0 0 0 658.11 182.91ZM660.83 191.44A43.4 43.4 0 0 1 657.05 197.99L650.42 193.35A35.3 35.3 0 0 0 653.49 188.02ZM650.58 193.46A35.5 35.5 0 0 1 646.6 198.2L642.08 193.68A29.1 29.1 0 0 0 645.34 189.79ZM647.17 198.77A36.3 36.3 0 0 1 642.32 202.84L639.22 198.41A30.9 30.9 0 0 0 643.35 194.95ZM640.54 200.3A33.2 33.2 0 0 1 635.53 203.19L633.88 199.65A29.3 29.3 0 0 0 638.31 197.1ZM635.15 202.37A32.3 32.3 0 0 1 629.86 204.3L629.03 201.21A29.1 29.1 0 0 0 633.8 199.47ZM629.83 204.2A32.2 32.2 0 0 1 624.31 205.18L623.99 201.59A28.6 28.6 0 0 0 628.9 200.73ZM624.4 206.27A33.3 33.3 0 0 1 618.6 206.27L619.04 201.19A28.2 28.2 0 0 0 623.96 201.19ZM618.86 203.28A30.3 30.3 0 0 1 613.66 202.37L614.46 199.37A27.2 27.2 0 0 0 619.13 200.2ZM613.76 201.98A29.9 29.9 0 0 1 608.86 200.2L609.96 197.84A27.3 27.3 0 0 0 614.43 199.47ZM608.69 200.56A30.3 30.3 0 0 1 604.12 197.92L605.67 195.71A27.6 27.6 0 0 0 609.84 198.11ZM603.72 198.49A31 31 0 0 1 599.58 195.02L602.05 192.55A27.5 27.5 0 0 0 605.73 195.63ZM595.12 199.48A37.3 37.3 0 0 1 590.95 194.49L594.47 192.03A33 33 0 0 0 598.17 196.43ZM587.67 196.79A41.3 41.3 0 0 1 584.07 190.55L587.79 188.82A37.2 37.2 0 0 0 591.03 194.44ZM576.91 193.89A49.2 49.2 0 0 1 573.98 185.83L580.25 184.15A42.7 42.7 0 0 0 582.8 191.15ZM570.79 186.69A52.5 52.5 0 0 1 569.2 177.68L577.37 176.96A44.3 44.3 0 0 0 578.71 184.57ZM570 177.61A51.7 51.7 0 0 1 570 168.59L577.07 169.21A44.6 44.6 0 0 0 577.07 176.99ZM576.27 169.14A45.4 45.4 0 0 1 577.65 161.35L583.06 162.8A39.8 39.8 0 0 0 581.85 169.63ZM579 161.71A44 44 0 0 1 581.62 154.5L587.24 157.13A37.8 37.8 0 0 0 584.99 163.32ZM583.25 155.27A42.2 42.2 0 0 1 586.93 148.9L591.36 151.99A36.8 36.8 0 0 0 588.15 157.55ZM588.49 149.98A40.3 40.3 0 0 1 593 144.6L596.61 148.21A35.2 35.2 0 0 0 592.67 152.91ZM594.28 145.88A38.5 38.5 0 0 1 599.42 141.56L602 145.25A34 34 0 0 0 597.46 149.06ZM600.28 142.79A37 37 0 0 1 605.86 139.57L608.65 145.55A30.4 30.4 0 0 0 604.06 148.2ZM605.95 139.75A36.8 36.8 0 0 1 611.98 137.55L613.68 143.93A30.2 30.2 0 0 0 608.74 145.73ZM610.84 133.3A41.2 41.2 0 0 1 617.91 132.06L618.56 139.53A33.7 33.7 0 0 0 612.78 140.55Z"/>
<path class="b" fill="#82be62" stroke="#5d8846" d="M616.71 118.31A55 55 0 0 1 626.29 118.31L625.73 124.78A48.5 48.5 0 0 0 617.27 124.78ZM626.44 116.62A56.7 56.7 0 0 1 636.18 118.33L634.39 125A49.8 49.8 0 0 0 625.84 123.49ZM638.66 109.06A66.3 66.3 0 0 1 649.52 113.01L645.63 121.35A57.1 57.1 0 0 0 636.28 117.95ZM651.29 109.21A70.5 70.5 0 0 1 661.94 115.35L657.86 121.17A63.4 63.4 0 0 0 648.29 115.64ZM662.4 114.69A71.3 71.3 0 0 1 671.92 122.68L666.68 127.92A63.9 63.9 0 0 0 658.15 120.76ZM681.6 113A85 85 0 0 1 691.13 124.35L684.17 129.22A76.5 76.5 0 0 0 675.59 119.01ZM716.6 106.51A116.1 116.1 0 0 1 726.72 124.03L712.13 130.84A100 100 0 0 0 703.42 115.74ZM748.2 114.02A139.8 139.8 0 0 1 756.54 136.92L742.53 140.67A125.3 125.3 0 0 0 735.06 120.15ZM711.62 148.95A93.3 93.3 0 0 1 714.44 164.97L708.37 165.5A87.2 87.2 0 0 0 705.73 150.53ZM690.74 167.04A69.5 69.5 0 0 1 690.74 179.16L687.95 178.91A66.7 66.7 0 0 0 687.95 167.29ZM676.59 177.92A55.3 55.3 0 0 1 674.92 187.41L672.89 186.87A53.2 53.2 0 0 0 674.5 177.74ZM670.38 186.2A50.6 50.6 0 0 1 667.36 194.48L665 193.39A48 48 0 0 0 667.86 185.52ZM662.65 192.29A45.4 45.4 0 0 1 658.69 199.14L657.05 197.99A43.4 43.4 0 0 0 660.83 191.44ZM651.48 194.09A36.6 36.6 0 0 1 647.38 198.98L646.6 198.2A35.5 35.5 0 0 0 650.58 193.46ZM648.09 199.69A37.6 37.6 0 0 1 643.07 203.9L642.32 202.84A36.3 36.3 0 0 0 647.17 198.77ZM624.57 208.17A35.2 35.2 0 0 1 618.43 208.17L618.6 206.27A33.3 33.3 0 0 0 624.4 206.27ZM575.28 194.65A51 51 0 0 1 572.24 186.3L573.98 185.83A49.2 49.2 0 0 0 576.91 193.89ZM566.64 187.8A56.8 56.8 0 0 1 564.92 178.05L569.2 177.68A52.5 52.5 0 0 0 570.79 186.69ZM567.31 177.84A54.4 54.4 0 0 1 567.31 168.36L570 168.59A51.7 51.7 0 0 0 570 177.61ZM573.88 168.93A47.8 47.8 0 0 1 575.33 160.73L577.65 161.35A45.4 45.4 0 0 0 576.27 169.14ZM577.26 161.25A45.8 45.8 0 0 1 579.99 153.74L581.62 154.5A44 44 0 0 0 579 161.71ZM582.17 154.76A43.4 43.4 0 0 1 585.95 148.21L586.93 148.9A42.2 42.2 0 0 0 583.25 155.27ZM609.96 130.02A44.6 44.6 0 0 1 617.61 128.67L617.91 132.06A41.2 41.2 0 0 0 610.84 133.3Z"/>
<path fill="#82be62" d="M641 200.95A34 34 0 0 1 635.87 203.91L635.53 203.19A33.2 33.2 0 0 0 640.54 200.3ZM635.4 202.92A32.9 32.9 0 0 1 630.02 204.88L629.86 204.3A32.3 32.3 0 0 0 635.15 202.37ZM630.02 204.88A32.9 32.9 0 0 1 624.37 205.87L624.31 205.18A32.2 32.2 0 0 0 629.83 204.2ZM618.82 203.78A30.8 30.8 0 0 1 613.53 202.85L613.66 202.37A30.3 30.3 0 0 0 618.86 203.28ZM613.66 202.37A30.3 30.3 0 0 1 608.69 200.56L608.86 200.2A29.9 29.9 0 0 0 613.76 201.98ZM608.53 200.92A30.7 30.7 0 0 1 603.89 198.25L604.12 197.92A30.3 30.3 0 0 0 608.69 200.56ZM603.37 198.99A31.6 31.6 0 0 1 599.16 195.44L599.58 195.02A31 31 0 0 0 603.72 198.49ZM594.63 199.97A38 38 0 0 1 590.37 194.9L590.95 194.49A37.3 37.3 0 0 0 595.12 199.48ZM587.1 197.19A42 42 0 0 1 583.44 190.85L584.07 190.55A41.3 41.3 0 0 0 587.67 196.79ZM587.91 149.58A41 41 0 0 1 592.51 144.11L593 144.6A40.3 40.3 0 0 0 588.49 149.98ZM593.78 145.38A39.2 39.2 0 0 1 599.02 140.99L599.42 141.56A38.5 38.5 0 0 0 594.28 145.88ZM599.88 142.22A37.7 37.7 0 0 1 605.57 138.93L605.86 139.57A37 37 0 0 0 600.28 142.79ZM605.69 139.2A37.4 37.4 0 0 1 611.82 136.97L611.98 137.55A36.8 36.8 0 0 0 605.95 139.75Z"/>
<path class="b" fill="#ffd504" stroke="#b79902" d="M626.6 114.82A58.5 58.5 0 0 1 636.64 116.59L636.18 118.33A56.7 56.7 0 0 0 626.44 116.62ZM639.44 106.16A69.3 69.3 0 0 1 650.79 110.29L649.52 113.01A66.3 66.3 0 0 0 638.66 109.06ZM652.86 105.85A74.2 74.2 0 0 1 664.06 112.32L661.94 115.35A70.5 70.5 0 0 0 651.29 109.21ZM663.49 113.14A73.2 73.2 0 0 1 673.26 121.34L671.92 122.68A71.3 71.3 0 0 0 662.4 114.69ZM684.08 110.52A88.5 88.5 0 0 1 693.99 122.34L691.13 124.35A85 85 0 0 0 681.6 113ZM720.62 103.7A121 121 0 0 1 731.16 121.96L726.72 124.03A116.1 116.1 0 0 0 716.6 106.51ZM751.37 112.54A143.3 143.3 0 0 1 759.92 136.01L756.54 136.92A139.8 139.8 0 0 0 748.2 114.02ZM713.07 148.56A94.8 94.8 0 0 1 715.94 164.84L714.44 164.97A93.3 93.3 0 0 0 711.62 148.95ZM565.19 188.19A58.3 58.3 0 0 1 563.42 178.18L564.92 178.05A56.8 56.8 0 0 0 566.64 187.8Z"/>
<path fill="#ffd504" d="M616.65 117.61A55.7 55.7 0 0 1 626.35 117.61L626.29 118.31A55 55 0 0 0 616.71 118.31ZM691.03 167.02A69.8 69.8 0 0 1 691.03 179.18L690.74 179.16A69.5 69.5 0 0 0 690.74 167.04ZM676.89 177.95A55.6 55.6 0 0 1 675.21 187.49L674.92 187.41A55.3 55.3 0 0 0 676.59 177.92ZM670.67 186.27A50.9 50.9 0 0 1 667.63 194.61L667.36 194.48A50.6 50.6 0 0 0 670.38 186.2ZM662.92 192.41A45.7 45.7 0 0 1 658.94 199.31L658.69 199.14A45.4 45.4 0 0 0 662.65 192.29ZM651.64 194.21A36.8 36.8 0 0 1 647.52 199.12L647.38 198.98A36.6 36.6 0 0 0 651.48 194.09ZM648.23 199.83A37.8 37.8 0 0 1 643.18 204.06L643.07 203.9A37.6 37.6 0 0 0 648.09 199.69ZM641.12 201.11A34.2 34.2 0 0 1 635.95 204.1L635.87 203.91A34 34 0 0 0 641 200.95ZM635.45 203.01A33 33 0 0 1 630.04 204.98L630.02 204.88A32.9 32.9 0 0 0 635.4 202.92ZM630.04 204.98A33 33 0 0 1 624.38 205.97L624.37 205.87A32.9 32.9 0 0 0 630.02 204.88ZM624.59 208.37A35.4 35.4 0 0 1 618.41 208.37L618.43 208.17A35.2 35.2 0 0 0 624.57 208.17ZM618.81 203.88A30.9 30.9 0 0 1 613.5 202.95L613.53 202.85A30.8 30.8 0 0 0 618.82 203.78ZM613.63 202.46A30.4 30.4 0 0 1 608.65 200.65L608.69 200.56A30.3 30.3 0 0 0 613.66 202.37ZM608.48 201.01A30.8 30.8 0 0 1 603.83 198.33L603.89 198.25A30.7 30.7 0 0 0 608.53 200.92ZM603.32 199.07A31.7 31.7 0 0 1 599.08 195.52L599.16 195.44A31.6 31.6 0 0 0 603.37 198.99ZM594.56 200.04A38.1 38.1 0 0 1 590.29 194.95L590.37 194.9A38 38 0 0 0 594.63 199.97ZM586.93 197.3A42.2 42.2 0 0 1 583.25 190.93L583.44 190.85A42 42 0 0 0 587.1 197.19ZM575.1 194.74A51.2 51.2 0 0 1 572.04 186.35L572.24 186.3A51 51 0 0 0 575.28 194.65ZM566.91 177.88A54.8 54.8 0 0 1 566.91 168.32L567.31 168.36A54.4 54.4 0 0 0 567.31 177.84ZM573.58 168.91A48.1 48.1 0 0 1 575.04 160.65L575.33 160.73A47.8 47.8 0 0 0 573.88 168.93ZM577.07 161.19A46 46 0 0 1 579.81 153.66L579.99 153.74A45.8 45.8 0 0 0 577.26 161.25ZM582.08 154.72A43.5 43.5 0 0 1 585.87 148.15L585.95 148.21A43.4 43.4 0 0 0 582.17 154.76ZM587.83 149.53A41.1 41.1 0 0 1 592.44 144.04L592.51 144.11A41 41 0 0 0 587.91 149.58ZM593.71 145.31A39.3 39.3 0 0 1 598.96 140.91L599.02 140.99A39.2 39.2 0 0 0 593.78 145.38ZM599.82 142.14A37.8 37.8 0 0 1 605.53 138.84L605.57 138.93A37.7 37.7 0 0 0 599.88 142.22ZM605.65 139.11A37.5 37.5 0 0 1 611.79 136.88L611.82 136.97A37.4 37.4 0 0 0 605.69 139.2ZM609.9 129.83A44.8 44.8 0 0 1 617.6 128.47L617.61 128.67A44.6 44.6 0 0 0 609.96 130.02Z"/>
<path class="b" fill="#e3281e" stroke="#a31c15" d="M684.82 109.78A89.55 89.55 0 0 1 694.86 121.73L693.99 122.34A88.5 88.5 0 0 0 684.08 110.52ZM722.55 102.35A123.36 123.36 0 0 1 733.3 120.97L731.16 121.96A121 121 0 0 0 720.62 103.7ZM752.39 112.07A144.42 144.42 0 0 1 761 135.72L759.92 136.01A143.3 143.3 0 0 0 751.37 112.54ZM714.09 148.29A95.85 95.85 0 0 1 716.99 164.75L715.94 164.84A94.8 94.8 0 0 0 713.07 148.56Z"/>
<path fill="#e3281e" d="M616.63 117.46A55.85 55.85 0 0 1 626.37 117.46L626.35 117.61A55.7 55.7 0 0 0 616.65 117.61ZM626.61 114.64A58.68 58.68 0 0 1 636.69 116.42L636.64 116.59A58.5 58.5 0 0 0 626.6 114.82ZM639.49 105.96A69.51 69.51 0 0 1 650.88 110.1L650.79 110.29A69.3 69.3 0 0 0 639.44 106.16ZM652.96 105.63A74.44 74.44 0 0 1 664.2 112.12L664.06 112.32A74.2 74.2 0 0 0 652.86 105.85ZM663.64 112.92A73.47 73.47 0 0 1 673.45 121.15L673.26 121.34A73.2 73.2 0 0 0 663.49 113.14ZM691.18 167A69.95 69.95 0 0 1 691.18 179.2L691.03 179.18A69.8 69.8 0 0 0 691.03 167.02ZM677.01 177.96A55.72 55.72 0 0 1 675.32 187.52L675.21 187.49A55.6 55.6 0 0 0 676.89 177.95ZM670.81 186.31A51.05 51.05 0 0 1 667.77 194.67L667.63 194.61A50.9 50.9 0 0 0 670.67 186.27ZM663.03 192.46A45.82 45.82 0 0 1 659.03 199.38L658.94 199.31A45.7 45.7 0 0 0 662.92 192.41ZM651.72 194.26A36.89 36.89 0 0 1 647.59 199.19L647.52 199.12A36.8 36.8 0 0 0 651.64 194.21ZM648.29 199.89A37.89 37.89 0 0 1 643.23 204.14L643.18 204.06A37.8 37.8 0 0 0 648.23 199.83ZM641.17 201.19A34.29 34.29 0 0 1 635.99 204.18L635.95 204.1A34.2 34.2 0 0 0 641.12 201.11ZM635.48 203.09A33.09 33.09 0 0 1 630.06 205.06L630.04 204.98A33 33 0 0 0 635.45 203.01ZM630.06 205.06A33.09 33.09 0 0 1 624.38 206.06L624.38 205.97A33 33 0 0 0 630.04 204.98ZM624.59 208.43A35.46 35.46 0 0 1 618.41 208.43L618.41 208.37A35.4 35.4 0 0 0 624.59 208.37ZM618.8 203.94A30.96 30.96 0 0 1 613.49 203.01L613.5 202.95A30.9 30.9 0 0 0 618.81 203.88ZM613.62 202.52A30.46 30.46 0 0 1 608.63 200.71L608.65 200.65A30.4 30.4 0 0 0 613.63 202.46ZM608.46 201.07A30.86 30.86 0 0 1 603.8 198.38L603.83 198.33A30.8 30.8 0 0 0 608.48 201.01ZM603.27 199.14A31.79 31.79 0 0 1 599.02 195.58L599.08 195.52A31.7 31.7 0 0 0 603.32 199.07ZM594.5 200.1A38.19 38.19 0 0 1 590.22 195L590.29 194.95A38.1 38.1 0 0 0 594.56 200.04ZM586.86 197.36A42.29 42.29 0 0 1 583.17 190.97L583.25 190.93A42.2 42.2 0 0 0 586.93 197.3ZM574.93 194.81A51.38 51.38 0 0 1 571.87 186.4L572.04 186.35A51.2 51.2 0 0 0 575.1 194.74ZM564.78 188.3A58.72 58.72 0 0 1 563 178.22L563.42 178.18A58.3 58.3 0 0 0 565.19 188.19ZM566.46 177.92A55.25 55.25 0 0 1 566.46 168.28L566.91 168.32A54.8 54.8 0 0 0 566.91 177.88ZM573.31 168.88A48.37 48.37 0 0 1 574.78 160.58L575.04 160.65A48.1 48.1 0 0 0 573.58 168.91ZM576.98 161.17A46.09 46.09 0 0 1 579.73 153.62L579.81 153.66A46 46 0 0 0 577.07 161.19ZM582.02 154.69A43.56 43.56 0 0 1 585.82 148.12L585.87 148.15A43.5 43.5 0 0 0 582.08 154.72ZM587.78 149.49A41.16 41.16 0 0 1 592.4 144L592.44 144.04A41.1 41.1 0 0 0 587.83 149.53ZM593.67 145.27A39.36 39.36 0 0 1 598.92 140.86L598.96 140.91A39.3 39.3 0 0 0 593.71 145.31ZM599.78 142.09A37.86 37.86 0 0 1 605.5 138.79L605.53 138.84A37.8 37.8 0 0 0 599.82 142.14ZM605.63 139.06A37.56 37.56 0 0 1 611.78 136.82L611.79 136.88A37.5 37.5 0 0 0 605.65 139.11ZM609.89 129.77A44.86 44.86 0 0 1 617.59 128.41L617.6 128.47A44.8 44.8 0 0 0 609.9 129.83Z"/>
<path class="b" fill="#861417" stroke="#600e10" d="M723.73 101.52A124.8 124.8 0 0 1 734.61 120.36L733.3 120.97A123.36 123.36 0 0 0 722.55 102.35ZM563.83 188.55A59.7 59.7 0 0 1 562.03 178.3L563 178.22A58.72 58.72 0 0 0 564.78 188.3ZM565.41 178.01A56.3 56.3 0 0 1 565.41 168.19L566.46 168.28A55.25 55.25 0 0 0 566.46 177.92Z"/>
<path fill="#861417" d="M616.6 117.11A56.2 56.2 0 0 1 626.4 117.11L626.37 117.46A55.85 55.85 0 0 0 616.63 117.46ZM626.65 114.22A59.1 59.1 0 0 1 636.8 116.01L636.69 116.42A58.68 58.68 0 0 0 626.61 114.64ZM639.62 105.49A70 70 0 0 1 651.08 109.66L650.88 110.1A69.51 69.51 0 0 0 639.49 105.96ZM653.2 105.13A75 75 0 0 1 664.52 111.66L664.2 112.12A74.44 74.44 0 0 0 652.96 105.63ZM664 112.4A74.1 74.1 0 0 1 673.9 120.7L673.45 121.15A73.47 73.47 0 0 0 663.64 112.92ZM685.28 109.32A90.2 90.2 0 0 1 695.39 121.36L694.86 121.73A89.55 89.55 0 0 0 684.82 109.78ZM753.01 111.78A145.1 145.1 0 0 1 761.66 135.55L761 135.72A144.42 144.42 0 0 0 752.39 112.07ZM714.71 148.12A96.5 96.5 0 0 1 717.63 164.69L716.99 164.75A95.85 95.85 0 0 0 714.09 148.29ZM691.53 166.97A70.3 70.3 0 0 1 691.53 179.23L691.18 179.2A69.95 69.95 0 0 0 691.18 167ZM677.29 177.98A56 56 0 0 1 675.59 187.59L675.32 187.52A55.72 55.72 0 0 0 677.01 177.96ZM671.15 186.4A51.4 51.4 0 0 1 668.08 194.82L667.77 194.67A51.05 51.05 0 0 0 670.81 186.31ZM663.28 192.58A46.1 46.1 0 0 1 659.26 199.54L659.03 199.38A45.82 45.82 0 0 0 663.03 192.46ZM651.89 194.38A37.1 37.1 0 0 1 647.73 199.33L647.59 199.19A36.89 36.89 0 0 0 651.72 194.26ZM648.44 200.04A38.1 38.1 0 0 1 643.35 204.31L643.23 204.14A37.89 37.89 0 0 0 648.29 199.89ZM641.29 201.36A34.5 34.5 0 0 1 636.08 204.37L635.99 204.18A34.29 34.29 0 0 0 641.17 201.19ZM635.57 203.28A33.3 33.3 0 0 1 630.12 205.27L630.06 205.06A33.09 33.09 0 0 0 635.48 203.09ZM630.12 205.27A33.3 33.3 0 0 1 624.4 206.27L624.38 206.06A33.09 33.09 0 0 0 630.06 205.06ZM624.6 208.56A35.6 35.6 0 0 1 618.4 208.56L618.41 208.43A35.46 35.46 0 0 0 624.59 208.43ZM618.79 204.08A31.1 31.1 0 0 1 613.45 203.14L613.49 203.01A30.96 30.96 0 0 0 618.8 203.94ZM613.58 202.66A30.6 30.6 0 0 1 608.57 200.83L608.63 200.71A30.46 30.46 0 0 0 613.62 202.52ZM608.4 201.2A31 31 0 0 1 603.72 198.49L603.8 198.38A30.86 30.86 0 0 0 608.46 201.07ZM603.15 199.31A32 32 0 0 1 598.87 195.73L599.02 195.58A31.79 31.79 0 0 0 603.27 199.14ZM594.35 200.25A38.4 38.4 0 0 1 590.04 195.13L590.22 195A38.19 38.19 0 0 0 594.5 200.1ZM586.69 197.48A42.5 42.5 0 0 1 582.98 191.06L583.17 190.97A42.29 42.29 0 0 0 586.86 197.36ZM574.55 194.99A51.8 51.8 0 0 1 571.47 186.51L571.87 186.4A51.38 51.38 0 0 0 574.93 194.81ZM572.69 168.83A49 49 0 0 1 574.17 160.42L574.78 160.58A48.37 48.37 0 0 0 573.31 168.88ZM576.78 161.12A46.3 46.3 0 0 1 579.54 153.53L579.73 153.62A46.09 46.09 0 0 0 576.98 161.17ZM581.89 154.63A43.7 43.7 0 0 1 585.7 148.03L585.82 148.12A43.56 43.56 0 0 0 582.02 154.69ZM587.67 149.41A41.3 41.3 0 0 1 592.3 143.9L592.4 144A41.16 41.16 0 0 0 587.78 149.49ZM593.57 145.17A39.5 39.5 0 0 1 598.84 140.74L598.92 140.86A39.36 39.36 0 0 0 593.67 145.27ZM599.7 141.97A38 38 0 0 1 605.44 138.66L605.5 138.79A37.86 37.86 0 0 0 599.78 142.09ZM605.57 138.93A37.7 37.7 0 0 1 611.74 136.68L611.78 136.82A37.56 37.56 0 0 0 605.63 139.06ZM609.85 129.63A45 45 0 0 1 617.58 128.27L617.59 128.41A44.86 44.86 0 0 0 609.89 129.77Z"/>
<circle class="g" cx="621.5" cy="173.1" r="38.51"/>
<circle class="g" cx="621.5" cy="173.1" r="67.32"/>
<circle class="g" cx="621.5" cy="173.1" r="96.13"/>
<circle class="g" cx="621.5" cy="173.1" r="124.94"/>
<path class="g" d="M621.5 163.4L621.5 19.35M626.35 164.7L698.38 39.95M629.9 168.25L754.65 96.22M631.2 173.1L775.25 173.1M629.9 177.95L754.65 249.97M626.35 181.5L698.38 306.25M621.5 182.8L621.5 326.85M616.65 181.5L544.62 306.25M613.1 177.95L488.35 249.98M611.8 173.1L467.75 173.1M613.1 168.25L488.35 96.22M616.65 164.7L544.62 39.95"/>
<circle cx="621.5" cy="173.1" r="9.7" fill="#fff"/>
<circle cx="621.5" cy="173.1" r="153.75" fill="none" stroke="#2a2a2a" stroke-width="0.9"/>
<text class="c" transform="translate(620.9 15.75) scale(.93 1)">N</text>
<text class="c" transform="translate(620.3 338.95) scale(.93 1)">S</text>
<text class="c" transform="translate(781.4 177.7) scale(.93 1)">E</text>
<text class="c" transform="translate(456.3 177.7) scale(.93 1)">W</text>
<text class="z" transform="translate(623.8 174.7) scale(.9 1)">0%</text>
<text class="p" transform="translate(596.35 136.95) scale(.94 1)">1.8%</text>
<text class="p" transform="translate(581.94 112) scale(.94 1)">3.6%</text>
<text class="p" transform="translate(567.53 87.05) scale(.94 1)">5.4%</text>
<text class="p" transform="translate(553.13 62.1) scale(.94 1)">7.2%</text>
<text class="p" transform="translate(540.92 36.95) scale(.94 1)">9%</text>
</g>
<g>
<path class="b" fill="#282a7c" stroke="#1c1e59" d="M270.59 512.15A12.7 12.7 0 0 1 272.81 512.15L272.55 515.14A9.7 9.7 0 0 0 270.85 515.14ZM272.81 512.15A12.7 12.7 0 0 1 274.99 512.53L274.21 515.43A9.7 9.7 0 0 0 272.55 515.14ZM274.99 512.53A12.7 12.7 0 0 1 277.07 513.29L275.8 516.01A9.7 9.7 0 0 0 274.21 515.43ZM277.07 513.29A12.7 12.7 0 0 1 278.98 514.4L277.26 516.85A9.7 9.7 0 0 0 275.8 516.01ZM278.98 514.4A12.7 12.7 0 0 1 280.68 515.82L278.56 517.94A9.7 9.7 0 0 0 277.26 516.85ZM280.68 515.82A12.7 12.7 0 0 1 282.1 517.52L279.65 519.24A9.7 9.7 0 0 0 278.56 517.94ZM282.1 517.52A12.7 12.7 0 0 1 283.21 519.43L280.49 520.7A9.7 9.7 0 0 0 279.65 519.24ZM283.21 519.43A12.7 12.7 0 0 1 283.97 521.51L281.07 522.29A9.7 9.7 0 0 0 280.49 520.7ZM283.97 521.51A12.7 12.7 0 0 1 284.35 523.69L281.36 523.95A9.7 9.7 0 0 0 281.07 522.29ZM284.35 523.69A12.7 12.7 0 0 1 284.35 525.91L281.36 525.65A9.7 9.7 0 0 0 281.36 523.95ZM284.35 525.91A12.7 12.7 0 0 1 283.97 528.09L281.07 527.31A9.7 9.7 0 0 0 281.36 525.65ZM283.97 528.09A12.7 12.7 0 0 1 283.21 530.17L280.49 528.9A9.7 9.7 0 0 0 281.07 527.31ZM283.21 530.17A12.7 12.7 0 0 1 282.1 532.08L279.65 530.36A9.7 9.7 0 0 0 280.49 528.9ZM282.1 532.08A12.7 12.7 0 0 1 280.68 533.78L278.56 531.66A9.7 9.7 0 0 0 279.65 530.36ZM280.68 533.78A12.7 12.7 0 0 1 278.98 535.2L277.26 532.75A9.7 9.7 0 0 0 278.56 531.66ZM278.98 535.2A12.7 12.7 0 0 1 277.07 536.31L275.8 533.59A9.7 9.7 0 0 0 277.26 532.75ZM277.07 536.31A12.7 12.7 0 0 1 274.99 537.07L274.21 534.17A9.7 9.7 0 0 0 275.8 533.59ZM274.99 537.07A12.7 12.7 0 0 1 272.81 537.45L272.55 534.46A9.7 9.7 0 0 0 274.21 534.17ZM272.81 537.45A12.7 12.7 0 0 1 270.59 537.45L270.85 534.46A9.7 9.7 0 0 0 272.55 534.46ZM270.59 537.45A12.7 12.7 0 0 1 268.41 537.07L269.19 534.17A9.7 9.7 0 0 0 270.85 534.46ZM268.41 537.07A12.7 12.7 0 0 1 266.33 536.31L267.6 533.59A9.7 9.7 0 0 0 269.19 534.17ZM266.33 536.31A12.7 12.7 0 0 1 264.42 535.2L266.14 532.75A9.7 9.7 0 0 0 267.6 533.59ZM264.42 535.2A12.7 12.7 0 0 1 262.72 533.78L264.84 531.66A9.7 9.7 0 0 0 266.14 532.75ZM262.72 533.78A12.7 12.7 0 0 1 261.3 532.08L263.75 530.36A9.7 9.7 0 0 0 264.84 531.66ZM261.3 532.08A12.7 12.7 0 0 1 260.19 530.17L262.91 528.9A9.7 9.7 0 0 0 263.75 530.36ZM260.19 530.17A12.7 12.7 0 0 1 259.43 528.09L262.33 527.31A9.7 9.7 0 0 0 262.91 528.9ZM259.43 528.09A12.7 12.7 0 0 1 259.05 525.91L262.04 525.65A9.7 9.7 0 0 0 262.33 527.31ZM259.05 525.91A12.7 12.7 0 0 1 259.05 523.69L262.04 523.95A9.7 9.7 0 0 0 262.04 525.65ZM259.05 523.69A12.7 12.7 0 0 1 259.43 521.51L262.33 522.29A9.7 9.7 0 0 0 262.04 523.95ZM259.43 521.51A12.7 12.7 0 0 1 260.19 519.43L262.91 520.7A9.7 9.7 0 0 0 262.33 522.29ZM260.19 519.43A12.7 12.7 0 0 1 261.3 517.52L263.75 519.24A9.7 9.7 0 0 0 262.91 520.7ZM261.3 517.52A12.7 12.7 0 0 1 262.72 515.82L264.84 517.94A9.7 9.7 0 0 0 263.75 519.24ZM262.72 515.82A12.7 12.7 0 0 1 264.42 514.4L266.14 516.85A9.7 9.7 0 0 0 264.84 517.94ZM264.42 514.4A12.7 12.7 0 0 1 266.33 513.29L267.6 516.01A9.7 9.7 0 0 0 266.14 516.85ZM266.33 513.29A12.7 12.7 0 0 1 268.41 512.53L269.19 515.43A9.7 9.7 0 0 0 267.6 516.01ZM268.41 512.53A12.7 12.7 0 0 1 270.59 512.15L270.85 515.14A9.7 9.7 0 0 0 269.19 515.43Z"/>
<path class="b" fill="#3355b2" stroke="#243d80" d="M269.06 494.62A30.3 30.3 0 0 1 274.34 494.62L272.81 512.15A12.7 12.7 0 0 0 270.59 512.15ZM274.46 493.22A31.7 31.7 0 0 1 279.9 494.18L274.99 512.53A12.7 12.7 0 0 0 272.81 512.15ZM280.01 493.79A32.1 32.1 0 0 1 285.27 495.71L277.07 513.29A12.7 12.7 0 0 0 274.99 512.53ZM285.31 495.62A32.2 32.2 0 0 1 290.17 498.42L278.98 514.4A12.7 12.7 0 0 0 277.07 513.29ZM290.17 498.42A32.2 32.2 0 0 1 294.47 502.03L280.68 515.82A12.7 12.7 0 0 0 278.98 514.4ZM293.97 502.53A31.5 31.5 0 0 1 297.5 506.73L282.1 517.52A12.7 12.7 0 0 0 280.68 515.82ZM297.18 506.96A31.1 31.1 0 0 1 299.89 511.66L283.21 519.43A12.7 12.7 0 0 0 282.1 517.52ZM298.71 512.21A29.8 29.8 0 0 1 300.48 517.09L283.97 521.51A12.7 12.7 0 0 0 283.21 519.43ZM300.19 517.16A29.5 29.5 0 0 1 301.09 522.23L284.35 523.69A12.7 12.7 0 0 0 283.97 521.51ZM301.09 522.23A29.5 29.5 0 0 1 301.09 527.37L284.35 525.91A12.7 12.7 0 0 0 284.35 523.69ZM301.39 527.4A29.8 29.8 0 0 1 300.48 532.51L283.97 528.09A12.7 12.7 0 0 0 284.35 525.91ZM300.19 532.44A29.5 29.5 0 0 1 298.44 537.27L283.21 530.17A12.7 12.7 0 0 0 283.97 528.09ZM296.62 536.42A27.5 27.5 0 0 1 294.23 540.57L282.1 532.08A12.7 12.7 0 0 0 283.21 530.17ZM293.82 540.29A27 27 0 0 1 290.79 543.89L280.68 533.78A12.7 12.7 0 0 0 282.1 532.08ZM290.79 543.89A27 27 0 0 1 287.19 546.92L278.98 535.2A12.7 12.7 0 0 0 280.68 533.78ZM287.19 546.92A27 27 0 0 1 283.11 549.27L277.07 536.31A12.7 12.7 0 0 0 278.98 535.2ZM283.11 549.27A27 27 0 0 1 278.69 550.88L274.99 537.07A12.7 12.7 0 0 0 277.07 536.31ZM278.69 550.88A27 27 0 0 1 274.05 551.7L272.81 537.45A12.7 12.7 0 0 0 274.99 537.07ZM274.04 551.6A26.9 26.9 0 0 1 269.36 551.6L270.59 537.45A12.7 12.7 0 0 0 272.81 537.45ZM269.48 550.2A25.5 25.5 0 0 1 265.1 549.43L268.41 537.07A12.7 12.7 0 0 0 270.59 537.45ZM265.1 549.43A25.5 25.5 0 0 1 260.92 547.91L266.33 536.31A12.7 12.7 0 0 0 268.41 537.07ZM260.92 547.91A25.5 25.5 0 0 1 257.07 545.69L264.42 535.2A12.7 12.7 0 0 0 266.33 536.31ZM257.07 545.69A25.5 25.5 0 0 1 253.67 542.83L262.72 533.78A12.7 12.7 0 0 0 264.42 535.2ZM253.67 542.83A25.5 25.5 0 0 1 250.81 539.43L261.3 532.08A12.7 12.7 0 0 0 262.72 533.78ZM252.04 538.57A24 24 0 0 1 249.95 534.94L260.19 530.17A12.7 12.7 0 0 0 261.3 532.08ZM249.95 534.94A24 24 0 0 1 248.52 531.01L259.43 528.09A12.7 12.7 0 0 0 260.19 530.17ZM248.52 531.01A24 24 0 0 1 247.79 526.89L259.05 525.91A12.7 12.7 0 0 0 259.43 528.09ZM247.19 526.94A24.6 24.6 0 0 1 247.19 522.66L259.05 523.69A12.7 12.7 0 0 0 259.05 525.91ZM247.79 522.71A24 24 0 0 1 248.52 518.59L259.43 521.51A12.7 12.7 0 0 0 259.05 523.69ZM248.52 518.59A24 24 0 0 1 249.95 514.66L260.19 519.43A12.7 12.7 0 0 0 259.43 521.51ZM249.95 514.66A24 24 0 0 1 252.04 511.03L261.3 517.52A12.7 12.7 0 0 0 260.19 519.43ZM250.81 510.17A25.5 25.5 0 0 1 253.67 506.77L262.72 515.82A12.7 12.7 0 0 0 261.3 517.52ZM253.67 506.77A25.5 25.5 0 0 1 257.07 503.91L264.42 514.4A12.7 12.7 0 0 0 262.72 515.82ZM257.07 503.91A25.5 25.5 0 0 1 260.92 501.69L266.33 513.29A12.7 12.7 0 0 0 264.42 514.4ZM261.22 502.32A24.8 24.8 0 0 1 265.28 500.85L268.41 512.53A12.7 12.7 0 0 0 266.33 513.29ZM265.33 501.04A24.6 24.6 0 0 1 269.56 500.29L270.59 512.15A12.7 12.7 0 0 0 268.41 512.53Z"/>
<path class="b" fill="#2878c8" stroke="#1c5690" d="M267.54 477.28A47.7 47.7 0 0 1 275.86 477.28L274.34 494.62A30.3 30.3 0 0 0 269.06 494.62ZM276.49 470.01A55 55 0 0 1 285.94 471.67L279.9 494.18A31.7 31.7 0 0 0 274.46 493.22ZM287.02 467.62A59.2 59.2 0 0 1 296.72 471.15L285.27 495.71A32.1 32.1 0 0 0 280.01 493.79ZM297.27 469.97A60.5 60.5 0 0 1 306.4 475.24L290.17 498.42A32.2 32.2 0 0 0 285.31 495.62ZM307.66 473.44A62.7 62.7 0 0 1 316.04 480.46L294.47 502.03A32.2 32.2 0 0 0 290.17 498.42ZM314.83 481.67A61 61 0 0 1 321.67 489.81L297.5 506.73A31.5 31.5 0 0 0 293.97 502.53ZM320.44 490.67A59.5 59.5 0 0 1 325.63 499.65L299.89 511.66A31.1 31.1 0 0 0 297.18 506.96ZM324.72 500.08A58.5 58.5 0 0 1 328.21 509.66L300.48 517.09A29.8 29.8 0 0 0 298.71 512.21ZM323.86 510.82A54 54 0 0 1 325.49 520.09L301.09 522.23A29.5 29.5 0 0 0 300.19 517.16ZM321.31 520.46A49.8 49.8 0 0 1 321.31 529.14L301.09 527.37A29.5 29.5 0 0 0 301.09 522.23ZM319.02 528.94A47.5 47.5 0 0 1 317.58 537.09L300.48 532.51A29.8 29.8 0 0 0 301.39 527.4ZM317.1 536.96A47 47 0 0 1 314.3 544.66L298.44 537.27A29.5 29.5 0 0 0 300.19 532.44ZM308.41 541.92A40.5 40.5 0 0 1 304.88 548.03L294.23 540.57A27.5 27.5 0 0 0 296.62 536.42ZM308.15 550.32A44.5 44.5 0 0 1 303.17 556.27L290.79 543.89A27 27 0 0 0 293.82 540.29ZM303.17 556.27A44.5 44.5 0 0 1 297.22 561.25L287.19 546.92A27 27 0 0 0 290.79 543.89ZM297.05 561.01A44.2 44.2 0 0 1 290.38 564.86L283.11 549.27A27 27 0 0 0 287.19 546.92ZM290.3 564.68A44 44 0 0 1 283.09 567.3L278.69 550.88A27 27 0 0 0 283.11 549.27ZM282.91 566.62A43.3 43.3 0 0 1 275.47 567.94L274.05 551.7A27 27 0 0 0 278.69 550.88ZM275.41 567.24A42.6 42.6 0 0 1 267.99 567.24L269.36 551.6A26.9 26.9 0 0 0 274.04 551.6ZM267.95 567.64A43 43 0 0 1 260.57 566.33L265.1 549.43A25.5 25.5 0 0 0 269.48 550.2ZM260.7 565.85A42.5 42.5 0 0 1 253.74 563.32L260.92 547.91A25.5 25.5 0 0 0 265.1 549.43ZM253.95 562.86A42 42 0 0 1 247.61 559.2L257.07 545.69A25.5 25.5 0 0 0 260.92 547.91ZM248.41 558.06A40.6 40.6 0 0 1 242.99 553.51L253.67 542.83A25.5 25.5 0 0 0 257.07 545.69ZM243.77 552.73A39.5 39.5 0 0 1 239.34 547.46L250.81 539.43A25.5 25.5 0 0 0 253.67 542.83ZM239.92 547.05A38.8 38.8 0 0 1 236.54 541.2L249.95 534.94A24 24 0 0 0 252.04 538.57ZM235.9 541.49A39.5 39.5 0 0 1 233.55 535.02L248.52 531.01A24 24 0 0 0 249.95 534.94ZM233.55 535.02A39.5 39.5 0 0 1 232.35 528.24L247.79 526.89A24 24 0 0 0 248.52 531.01ZM233.05 528.18A38.8 38.8 0 0 1 233.05 521.42L247.19 522.66A24.6 24.6 0 0 0 247.19 526.94ZM232.75 521.39A39.1 39.1 0 0 1 233.93 514.68L248.52 518.59A24 24 0 0 0 247.79 522.71ZM235.67 515.15A37.3 37.3 0 0 1 237.89 509.04L249.95 514.66A24 24 0 0 0 248.52 518.59ZM237.62 508.91A37.6 37.6 0 0 1 240.9 503.23L252.04 511.03A24 24 0 0 0 249.95 514.66ZM241.23 503.46A37.2 37.2 0 0 1 245.4 498.5L253.67 506.77A25.5 25.5 0 0 0 250.81 510.17ZM245.47 498.57A37.1 37.1 0 0 1 250.42 494.41L257.07 503.91A25.5 25.5 0 0 0 253.67 506.77ZM249.9 493.67A38 38 0 0 1 255.64 490.36L260.92 501.69A25.5 25.5 0 0 0 257.07 503.91ZM254.8 488.55A40 40 0 0 1 261.35 486.16L265.28 500.85A24.8 24.8 0 0 0 261.22 502.32ZM261.04 485A41.2 41.2 0 0 1 268.11 483.76L269.56 500.29A24.6 24.6 0 0 0 265.33 501.04Z"/>
<path class="b" fill="#44c0da" stroke="#308a9c" d="M266.13 461.14A63.9 63.9 0 0 1 277.27 461.14L275.86 477.28A47.7 47.7 0 0 0 267.54 477.28ZM278.05 452.18A72.9 72.9 0 0 1 290.57 454.38L285.94 471.67A55 55 0 0 0 276.49 470.01ZM293.03 445.21A82.4 82.4 0 0 1 306.52 450.12L296.72 471.15A59.2 59.2 0 0 0 287.02 467.62ZM307.45 448.13A84.6 84.6 0 0 1 320.22 455.5L306.4 475.24A60.5 60.5 0 0 0 297.27 469.97ZM322.4 452.39A88.4 88.4 0 0 1 334.21 462.29L316.04 480.46A62.7 62.7 0 0 0 307.66 473.44ZM335.55 460.95A90.3 90.3 0 0 1 345.67 473.01L321.67 489.81A61 61 0 0 0 314.83 481.67ZM344.77 473.64A89.2 89.2 0 0 1 352.54 487.1L325.63 499.65A59.5 59.5 0 0 0 320.44 490.67ZM351.82 487.44A88.4 88.4 0 0 1 357.09 501.92L328.21 509.66A58.5 58.5 0 0 0 324.72 500.08ZM345.3 505.08A76.2 76.2 0 0 1 347.61 518.16L325.49 520.09A54 54 0 0 0 323.86 510.82ZM339.54 518.86A68.1 68.1 0 0 1 339.54 530.74L321.31 529.14A49.8 49.8 0 0 0 321.31 520.46ZM337.35 530.54A65.9 65.9 0 0 1 335.35 541.86L317.58 537.09A47.5 47.5 0 0 0 319.02 528.94ZM332.46 541.08A62.9 62.9 0 0 1 328.71 551.38L314.3 544.66A47 47 0 0 0 317.1 536.96ZM318.19 546.48A51.3 51.3 0 0 1 313.72 554.22L304.88 548.03A40.5 40.5 0 0 0 308.41 541.92ZM318.56 557.61A57.2 57.2 0 0 1 312.15 565.25L303.17 556.27A44.5 44.5 0 0 0 308.15 550.32ZM312.78 565.88A58.1 58.1 0 0 1 305.02 572.39L297.22 561.25A44.5 44.5 0 0 0 303.17 556.27ZM305.37 572.88A58.7 58.7 0 0 1 296.51 578L290.38 564.86A44.2 44.2 0 0 0 297.05 561.01ZM296.13 577.18A57.8 57.8 0 0 1 286.66 580.63L283.09 567.3A44 44 0 0 0 290.3 564.68ZM286.58 580.34A57.5 57.5 0 0 1 276.71 582.08L275.47 567.94A43.3 43.3 0 0 0 282.91 566.62ZM276.49 579.59A55 55 0 0 1 266.91 579.59L267.99 567.24A42.6 42.6 0 0 0 275.41 567.24ZM267.09 577.5A52.9 52.9 0 0 1 258.01 575.9L260.57 566.33A43 43 0 0 0 267.95 567.64ZM258.4 574.45A51.4 51.4 0 0 1 249.98 571.38L253.74 563.32A42.5 42.5 0 0 0 260.7 565.85ZM251.63 567.85A47.5 47.5 0 0 1 244.46 563.71L247.61 559.2A42 42 0 0 0 253.95 562.86ZM244.28 563.96A47.8 47.8 0 0 1 237.9 558.6L242.99 553.51A40.6 40.6 0 0 0 248.41 558.06ZM238.82 557.68A46.5 46.5 0 0 1 233.61 551.47L239.34 547.46A39.5 39.5 0 0 0 243.77 552.73ZM232.79 552.04A47.5 47.5 0 0 1 228.65 544.87L236.54 541.2A38.8 38.8 0 0 0 239.92 547.05ZM227.83 545.25A48.4 48.4 0 0 1 224.95 537.33L233.55 535.02A39.5 39.5 0 0 0 235.9 541.49ZM222.05 538.1A51.4 51.4 0 0 1 220.5 529.28L232.35 528.24A39.5 39.5 0 0 0 233.55 535.02ZM223.38 529.03A48.5 48.5 0 0 1 223.38 520.57L233.05 521.42A38.8 38.8 0 0 0 233.05 528.18ZM223.09 520.55A48.8 48.8 0 0 1 224.56 512.17L233.93 514.68A39.1 39.1 0 0 0 232.75 521.39ZM227.27 512.89A46 46 0 0 1 230.01 505.36L237.89 509.04A37.3 37.3 0 0 0 235.67 515.15ZM231.01 505.82A44.9 44.9 0 0 1 234.92 499.05L240.9 503.23A37.6 37.6 0 0 0 237.62 508.91ZM234.43 498.7A45.5 45.5 0 0 1 239.53 492.63L245.4 498.5A37.2 37.2 0 0 0 241.23 503.46ZM233.59 486.69A53.9 53.9 0 0 1 240.78 480.65L250.42 494.41A37.1 37.1 0 0 0 245.47 498.57ZM240.73 480.57A54 54 0 0 1 248.88 475.86L255.64 490.36A38 38 0 0 0 249.9 493.67ZM250.36 479.03A50.5 50.5 0 0 1 258.63 476.02L261.35 486.16A40 40 0 0 0 254.8 488.55ZM257.52 471.87A54.8 54.8 0 0 1 266.92 470.21L268.11 483.76A41.2 41.2 0 0 0 261.04 485Z"/>
<path class="b" fill="#82c062" stroke="#5d8a46" d="M265.17 450.19A74.9 74.9 0 0 1 278.23 450.19L277.27 461.14A63.9 63.9 0 0 0 266.13 461.14ZM279.05 440.82A84.3 84.3 0 0 1 293.52 443.37L290.57 454.38A72.9 72.9 0 0 0 278.05 452.18ZM296.78 431.2A96.9 96.9 0 0 1 312.65 436.98L306.52 450.12A82.4 82.4 0 0 0 293.03 445.21ZM315.36 431.18A103.3 103.3 0 0 1 330.95 440.18L320.22 455.5A84.6 84.6 0 0 0 307.45 448.13ZM334.79 434.69A110 110 0 0 1 349.48 447.02L334.21 462.29A88.4 88.4 0 0 0 322.4 452.39ZM351.46 445.04A112.8 112.8 0 0 1 364.1 460.1L345.67 473.01A90.3 90.3 0 0 0 335.55 460.95ZM364.84 459.58A113.7 113.7 0 0 1 374.75 476.75L352.54 487.1A89.2 89.2 0 0 0 344.77 473.64ZM372.48 477.8A111.2 111.2 0 0 1 379.11 496.02L357.09 501.92A88.4 88.4 0 0 0 351.82 487.44ZM360.37 501.04A91.8 91.8 0 0 1 363.15 516.8L347.61 518.16A76.2 76.2 0 0 0 345.3 505.08ZM354.58 517.55A83.2 83.2 0 0 1 354.58 532.05L339.54 530.74A68.1 68.1 0 0 0 339.54 518.86ZM348.31 531.5A76.9 76.9 0 0 1 345.98 544.7L335.35 541.86A65.9 65.9 0 0 0 337.35 530.54ZM339.03 542.84A69.7 69.7 0 0 1 334.87 554.26L328.71 551.38A62.9 62.9 0 0 0 332.46 541.08ZM326.26 550.24A60.2 60.2 0 0 1 321.01 559.33L313.72 554.22A51.3 51.3 0 0 0 318.19 546.48ZM328.47 564.55A69.3 69.3 0 0 1 320.7 573.8L312.15 565.25A57.2 57.2 0 0 0 318.56 557.61ZM321.2 574.3A70 70 0 0 1 311.85 582.14L305.02 572.39A58.1 58.1 0 0 0 312.78 565.88ZM311.79 582.06A69.9 69.9 0 0 1 301.24 588.15L296.51 578A58.7 58.7 0 0 0 305.37 572.88ZM300.44 586.43A68 68 0 0 1 289.3 590.48L286.66 580.63A57.8 57.8 0 0 0 296.13 577.18ZM288.91 589.03A66.5 66.5 0 0 1 277.5 591.05L276.71 582.08A57.5 57.5 0 0 0 286.58 580.34ZM277.35 589.35A64.8 64.8 0 0 1 266.05 589.35L266.91 579.59A55 55 0 0 0 276.49 579.59ZM266.46 584.67A60.1 60.1 0 0 1 256.14 582.85L258.01 575.9A52.9 52.9 0 0 0 267.09 577.5ZM257.59 577.44A54.5 54.5 0 0 1 248.67 574.19L249.98 571.38A51.4 51.4 0 0 0 258.4 574.45ZM250.99 569.21A49 49 0 0 1 243.59 564.94L244.46 563.71A47.5 47.5 0 0 0 251.63 567.85ZM243.59 564.94A49 49 0 0 1 237.05 559.45L237.9 558.6A47.8 47.8 0 0 0 244.28 563.96ZM237.41 559.09A48.5 48.5 0 0 1 231.97 552.62L233.61 551.47A46.5 46.5 0 0 0 238.82 557.68ZM230.09 553.94A50.8 50.8 0 0 1 225.66 546.27L228.65 544.87A47.5 47.5 0 0 0 232.79 552.04ZM225.3 546.44A51.2 51.2 0 0 1 222.24 538.05L224.95 537.33A48.4 48.4 0 0 0 227.83 545.25ZM216.84 539.5A56.8 56.8 0 0 1 215.12 529.75L220.5 529.28A51.4 51.4 0 0 0 222.05 538.1ZM218.7 529.44A53.2 53.2 0 0 1 218.7 520.16L223.38 520.57A48.5 48.5 0 0 0 223.38 529.03ZM218.4 520.14A53.5 53.5 0 0 1 220.02 510.95L224.56 512.17A48.8 48.8 0 0 0 223.09 520.55ZM221.47 511.34A52 52 0 0 1 224.57 502.82L230.01 505.36A46 46 0 0 0 227.27 512.89ZM223.67 502.4A53 53 0 0 1 228.28 494.4L234.92 499.05A44.9 44.9 0 0 0 231.01 505.82ZM227.88 494.11A53.5 53.5 0 0 1 233.87 486.97L239.53 492.63A45.5 45.5 0 0 0 234.43 498.7ZM228.92 482.02A60.5 60.5 0 0 1 237 475.24L240.78 480.65A53.9 53.9 0 0 0 233.59 486.69ZM237 475.24A60.5 60.5 0 0 1 246.13 469.97L248.88 475.86A54 54 0 0 0 240.73 480.57ZM245.79 469.24A61.3 61.3 0 0 1 255.83 465.59L258.63 476.02A50.5 50.5 0 0 0 250.36 479.03ZM254.62 461.05A66 66 0 0 1 265.95 459.05L266.92 470.21A54.8 54.8 0 0 0 257.52 471.87Z"/>
<path class="b" fill="#f2e822" stroke="#aea718" d="M264.73 445.1A80 80 0 0 1 278.67 445.1L278.23 450.19A74.9 74.9 0 0 0 265.17 450.19ZM279.67 433.65A91.5 91.5 0 0 1 295.38 436.42L293.52 443.37A84.3 84.3 0 0 0 279.05 440.82ZM299.39 421.45A107 107 0 0 1 316.92 427.83L312.65 436.98A96.9 96.9 0 0 0 296.78 431.2ZM319.79 421.66A113.8 113.8 0 0 1 336.97 431.58L330.95 440.18A103.3 103.3 0 0 0 315.36 431.18ZM339.96 427.32A119 119 0 0 1 355.85 440.65L349.48 447.02A110 110 0 0 0 334.79 434.69ZM360.51 435.99A125.6 125.6 0 0 1 374.59 452.76L364.1 460.1A112.8 112.8 0 0 0 351.46 445.04ZM375.98 451.78A127.3 127.3 0 0 1 387.07 471L374.75 476.75A113.7 113.7 0 0 0 364.84 459.58ZM381.82 473.45A121.5 121.5 0 0 1 389.06 493.35L379.11 496.02A111.2 111.2 0 0 0 372.48 477.8ZM366.94 499.28A98.6 98.6 0 0 1 369.92 516.21L363.15 516.8A91.8 91.8 0 0 0 360.37 501.04ZM359.37 517.13A88 88 0 0 1 359.37 532.47L354.58 532.05A83.2 83.2 0 0 0 354.58 517.55ZM351.4 531.77A80 80 0 0 1 348.97 545.51L345.98 544.7A76.9 76.9 0 0 0 348.31 531.5ZM340.47 543.23A71.2 71.2 0 0 1 336.23 554.89L334.87 554.26A69.7 69.7 0 0 0 339.03 542.84ZM327.89 551A62 62 0 0 1 322.49 560.36L321.01 559.33A60.2 60.2 0 0 0 326.26 550.24ZM331.01 566.33A72.4 72.4 0 0 1 322.89 575.99L320.7 573.8A69.3 69.3 0 0 0 328.47 564.55ZM323.39 576.49A73.1 73.1 0 0 1 313.63 584.68L311.85 582.14A70 70 0 0 0 321.2 574.3ZM313.34 584.27A72.6 72.6 0 0 1 302.38 590.6L301.24 588.15A69.9 69.9 0 0 0 311.79 582.06ZM302.55 590.96A73 73 0 0 1 290.59 595.31L289.3 590.48A68 68 0 0 0 300.44 586.43ZM290.02 593.19A70.8 70.8 0 0 1 277.87 595.33L277.5 591.05A66.5 66.5 0 0 0 288.91 589.03ZM277.62 592.44A67.9 67.9 0 0 1 265.78 592.44L266.05 589.35A64.8 64.8 0 0 0 277.35 589.35ZM266.3 586.56A62 62 0 0 1 255.65 584.69L256.14 582.85A60.1 60.1 0 0 0 266.46 584.67ZM257.26 578.7A55.8 55.8 0 0 1 248.12 575.37L248.67 574.19A54.5 54.5 0 0 0 257.59 577.44ZM250.27 570.75A50.7 50.7 0 0 1 242.62 566.33L243.59 564.94A49 49 0 0 0 250.99 569.21ZM242.79 566.09A50.4 50.4 0 0 1 236.06 560.44L237.05 559.45A49 49 0 0 0 243.59 564.94ZM236.49 560.01A49.8 49.8 0 0 1 230.91 553.36L231.97 552.62A48.5 48.5 0 0 0 237.41 559.09ZM228.94 554.74A52.2 52.2 0 0 1 224.39 546.86L225.66 546.27A50.8 50.8 0 0 0 230.09 553.94ZM224.21 546.95A52.4 52.4 0 0 1 221.09 538.36L222.24 538.05A51.2 51.2 0 0 0 225.3 546.44ZM214.42 540.15A59.3 59.3 0 0 1 212.63 529.97L215.12 529.75A56.8 56.8 0 0 0 216.84 539.5ZM216.21 529.65A55.7 55.7 0 0 1 216.21 519.95L218.7 520.16A53.2 53.2 0 0 0 218.7 529.44ZM216.41 519.96A55.5 55.5 0 0 1 218.09 510.44L220.02 510.95A53.5 53.5 0 0 0 218.4 520.14ZM219.06 510.69A54.5 54.5 0 0 1 222.31 501.77L224.57 502.82A52 52 0 0 0 221.47 511.34ZM221.13 501.22A55.8 55.8 0 0 1 225.99 492.79L228.28 494.4A53 53 0 0 0 223.67 502.4ZM225.91 492.74A55.9 55.9 0 0 1 232.17 485.27L233.87 486.97A53.5 53.5 0 0 0 227.88 494.11ZM227.01 480.11A63.2 63.2 0 0 1 235.45 473.03L237 475.24A60.5 60.5 0 0 0 228.92 482.02ZM235.34 472.87A63.4 63.4 0 0 1 244.91 467.34L246.13 469.97A60.5 60.5 0 0 0 237 475.24ZM244.86 467.25A63.5 63.5 0 0 1 255.26 463.46L255.83 465.59A61.3 61.3 0 0 0 245.79 469.24ZM253.3 456.12A71.1 71.1 0 0 1 265.5 453.97L265.95 459.05A66 66 0 0 0 254.62 461.05Z"/>
<path class="b" fill="#f08230" stroke="#ac5d22" d="M264.5 442.51A82.6 82.6 0 0 1 278.9 442.51L278.67 445.1A80 80 0 0 0 264.73 445.1ZM280.01 429.86A95.3 95.3 0 0 1 296.37 432.75L295.38 436.42A91.5 91.5 0 0 0 279.67 433.65ZM300.2 418.45A110.1 110.1 0 0 1 318.23 425.02L316.92 427.83A107 107 0 0 0 299.39 421.45ZM320.81 419.49A116.2 116.2 0 0 1 338.35 429.61L336.97 431.58A113.8 113.8 0 0 0 319.79 421.66ZM341.62 424.95A121.9 121.9 0 0 1 357.9 438.6L355.85 440.65A119 119 0 0 0 339.96 427.32ZM362.63 433.87A128.6 128.6 0 0 1 377.04 451.04L374.59 452.76A125.6 125.6 0 0 0 360.51 435.99ZM378.85 449.78A130.8 130.8 0 0 1 390.25 469.52L387.07 471A127.3 127.3 0 0 0 375.98 451.78ZM383.9 472.48A123.8 123.8 0 0 1 391.28 492.76L389.06 493.35A121.5 121.5 0 0 0 381.82 473.45ZM368.68 498.81A100.4 100.4 0 0 1 371.72 516.05L369.92 516.21A98.6 98.6 0 0 0 366.94 499.28ZM360.46 517.03A89.1 89.1 0 0 1 360.46 532.57L359.37 532.47A88 88 0 0 0 359.37 517.13ZM352.49 531.87A81.1 81.1 0 0 1 350.04 545.79L348.97 545.51A80 80 0 0 0 351.4 531.77ZM341.63 543.54A72.4 72.4 0 0 1 337.32 555.4L336.23 554.89A71.2 71.2 0 0 0 340.47 543.23ZM328.8 551.42A63 63 0 0 1 323.31 560.94L322.49 560.36A62 62 0 0 0 327.89 551ZM332.48 567.36A74.2 74.2 0 0 1 324.17 577.27L322.89 575.99A72.4 72.4 0 0 0 331.01 566.33ZM324.95 578.05A75.3 75.3 0 0 1 314.89 586.48L313.63 584.68A73.1 73.1 0 0 0 323.39 576.49ZM315.12 586.81A75.7 75.7 0 0 1 303.69 593.41L302.38 590.6A72.6 72.6 0 0 0 313.34 584.27ZM303.65 593.32A75.6 75.6 0 0 1 291.27 597.82L290.59 595.31A73 73 0 0 0 302.55 590.96ZM290.44 594.73A72.4 72.4 0 0 1 278.01 596.92L277.87 595.33A70.8 70.8 0 0 0 290.02 593.19ZM277.72 593.64A69.1 69.1 0 0 1 265.68 593.64L265.78 592.44A67.9 67.9 0 0 0 277.62 592.44ZM257.02 579.57A56.7 56.7 0 0 1 247.74 576.19L248.12 575.37A55.8 55.8 0 0 0 257.26 578.7ZM213.55 540.38A60.2 60.2 0 0 1 211.73 530.05L212.63 529.97A59.3 59.3 0 0 0 214.42 540.15ZM244.44 466.34A64.5 64.5 0 0 1 255.01 462.5L255.26 463.46A63.5 63.5 0 0 0 244.86 467.25ZM252.96 454.87A72.4 72.4 0 0 1 265.39 452.68L265.5 453.97A71.1 71.1 0 0 0 253.3 456.12Z"/>
<path fill="#f08230" d="M266.22 587.46A62.9 62.9 0 0 1 255.42 585.56L255.65 584.69A62 62 0 0 0 266.3 586.56ZM249.98 571.38A51.4 51.4 0 0 1 242.22 566.9L242.62 566.33A50.7 50.7 0 0 0 250.27 570.75ZM242.39 566.66A51.1 51.1 0 0 1 235.57 560.93L236.06 560.44A50.4 50.4 0 0 0 242.79 566.09ZM236.06 560.44A50.4 50.4 0 0 1 230.41 553.71L230.91 553.36A49.8 49.8 0 0 0 236.49 560.01ZM228.37 555.14A52.9 52.9 0 0 1 223.76 547.16L224.39 546.86A52.2 52.2 0 0 0 228.94 554.74ZM223.76 547.16A52.9 52.9 0 0 1 220.6 538.49L221.09 538.36A52.4 52.4 0 0 0 224.21 546.95ZM215.61 529.71A56.3 56.3 0 0 1 215.61 519.89L216.21 519.95A55.7 55.7 0 0 0 216.21 529.65ZM215.71 519.9A56.2 56.2 0 0 1 217.41 510.25L218.09 510.44A55.5 55.5 0 0 0 216.41 519.96ZM218.48 510.54A55.1 55.1 0 0 1 221.76 501.51L222.31 501.77A54.5 54.5 0 0 0 219.06 510.69ZM220.49 500.92A56.5 56.5 0 0 1 225.42 492.39L225.99 492.79A55.8 55.8 0 0 0 221.13 501.22ZM225.34 492.34A56.6 56.6 0 0 1 231.68 484.78L232.17 485.27A55.9 55.9 0 0 0 225.91 492.74ZM226.45 479.55A64 64 0 0 1 234.99 472.37L235.45 473.03A63.2 63.2 0 0 0 227.01 480.11ZM234.88 472.21A64.2 64.2 0 0 1 244.57 466.62L244.91 467.34A63.4 63.4 0 0 0 235.34 472.87Z"/>
<path class="b" fill="#e3121e" stroke="#a30c15" d="M379.66 449.2A131.8 131.8 0 0 1 391.15 469.1L390.25 469.52A130.8 130.8 0 0 0 378.85 449.78Z"/>
<path fill="#e3121e" d="M363.2 433.3A129.4 129.4 0 0 1 377.7 450.58L377.04 451.04A128.6 128.6 0 0 0 362.63 433.87ZM384.44 472.23A124.4 124.4 0 0 1 391.86 492.6L391.28 492.76A123.8 123.8 0 0 0 383.9 472.48ZM369.45 498.61A101.2 101.2 0 0 1 372.51 515.98L371.72 516.05A100.4 100.4 0 0 0 368.68 498.81ZM361.06 516.98A89.7 89.7 0 0 1 361.06 532.62L360.46 532.57A89.1 89.1 0 0 0 360.46 517.03ZM353.29 531.94A81.9 81.9 0 0 1 350.81 546L350.04 545.79A81.1 81.1 0 0 0 352.49 531.87ZM342.41 543.75A73.2 73.2 0 0 1 338.04 555.74L337.32 555.4A72.4 72.4 0 0 0 341.63 543.54ZM329.34 551.68A63.6 63.6 0 0 1 323.8 561.28L323.31 560.94A63 63 0 0 0 328.8 551.42ZM266.17 587.96A63.4 63.4 0 0 1 255.29 586.04L255.42 585.56A62.9 62.9 0 0 0 266.22 587.46ZM223.48 547.28A53.2 53.2 0 0 1 220.31 538.57L220.6 538.49A52.9 52.9 0 0 0 223.76 547.16Z"/>
<circle class="g" cx="271.7" cy="524.8" r="38.51"/>
<circle class="g" cx="271.7" cy="524.8" r="67.32"/>
<circle class="g" cx="271.7" cy="524.8" r="96.13"/>
<circle class="g" cx="271.7" cy="524.8" r="124.94"/>
<path class="g" d="M271.7 515.1L271.7 371.05M276.55 516.4L348.57 391.65M280.1 519.95L404.85 447.92M281.4 524.8L425.45 524.8M280.1 529.65L404.85 601.67M276.55 533.2L348.57 657.95M271.7 534.5L271.7 678.55M266.85 533.2L194.82 657.95M263.3 529.65L138.55 601.68M262 524.8L117.95 524.8M263.3 519.95L138.55 447.92M266.85 516.4L194.82 391.65"/>
<circle cx="271.7" cy="524.8" r="9.7" fill="#fff"/>
<circle cx="271.7" cy="524.8" r="153.75" fill="none" stroke="#2a2a2a" stroke-width="0.9"/>
<text class="c" transform="translate(271.1 367.45) scale(.93 1)">N</text>
<text class="c" transform="translate(270.5 690.65) scale(.93 1)">S</text>
<text class="c" transform="translate(431.6 529.4) scale(.93 1)">E</text>
<text class="c" transform="translate(106.5 529.4) scale(.93 1)">W</text>
<text class="z" transform="translate(274 526.4) scale(.9 1)">0%</text>
<text class="p" transform="translate(246.54 488.65) scale(.94 1)">1.2%</text>
<text class="p" transform="translate(232.14 463.7) scale(.94 1)">2.4%</text>
<text class="p" transform="translate(217.73 438.75) scale(.94 1)">3.6%</text>
<text class="p" transform="translate(203.33 413.8) scale(.94 1)">4.8%</text>
<text class="p" transform="translate(191.12 388.65) scale(.94 1)">6%</text>
</g>
<g>
<path class="b" fill="#282a7c" stroke="#1c1e59" d="M620.39 512.15A12.7 12.7 0 0 1 622.61 512.15L622.35 515.14A9.7 9.7 0 0 0 620.65 515.14ZM622.61 512.15A12.7 12.7 0 0 1 624.79 512.53L624.01 515.43A9.7 9.7 0 0 0 622.35 515.14ZM624.79 512.53A12.7 12.7 0 0 1 626.87 513.29L625.6 516.01A9.7 9.7 0 0 0 624.01 515.43ZM626.87 513.29A12.7 12.7 0 0 1 628.78 514.4L627.06 516.85A9.7 9.7 0 0 0 625.6 516.01ZM628.78 514.4A12.7 12.7 0 0 1 630.48 515.82L628.36 517.94A9.7 9.7 0 0 0 627.06 516.85ZM630.48 515.82A12.7 12.7 0 0 1 631.9 517.52L629.45 519.24A9.7 9.7 0 0 0 628.36 517.94ZM631.9 517.52A12.7 12.7 0 0 1 633.01 519.43L630.29 520.7A9.7 9.7 0 0 0 629.45 519.24ZM633.01 519.43A12.7 12.7 0 0 1 633.77 521.51L630.87 522.29A9.7 9.7 0 0 0 630.29 520.7ZM633.77 521.51A12.7 12.7 0 0 1 634.15 523.69L631.16 523.95A9.7 9.7 0 0 0 630.87 522.29ZM634.15 523.69A12.7 12.7 0 0 1 634.15 525.91L631.16 525.65A9.7 9.7 0 0 0 631.16 523.95ZM634.15 525.91A12.7 12.7 0 0 1 633.77 528.09L630.87 527.31A9.7 9.7 0 0 0 631.16 525.65ZM633.77 528.09A12.7 12.7 0 0 1 633.01 530.17L630.29 528.9A9.7 9.7 0 0 0 630.87 527.31ZM633.01 530.17A12.7 12.7 0 0 1 631.9 532.08L629.45 530.36A9.7 9.7 0 0 0 630.29 528.9ZM631.9 532.08A12.7 12.7 0 0 1 630.48 533.78L628.36 531.66A9.7 9.7 0 0 0 629.45 530.36ZM630.48 533.78A12.7 12.7 0 0 1 628.78 535.2L627.06 532.75A9.7 9.7 0 0 0 628.36 531.66ZM628.78 535.2A12.7 12.7 0 0 1 626.87 536.31L625.6 533.59A9.7 9.7 0 0 0 627.06 532.75ZM626.87 536.31A12.7 12.7 0 0 1 624.79 537.07L624.01 534.17A9.7 9.7 0 0 0 625.6 533.59ZM624.79 537.07A12.7 12.7 0 0 1 622.61 537.45L622.35 534.46A9.7 9.7 0 0 0 624.01 534.17ZM622.61 537.45A12.7 12.7 0 0 1 620.39 537.45L620.65 534.46A9.7 9.7 0 0 0 622.35 534.46ZM620.39 537.45A12.7 12.7 0 0 1 618.21 537.07L618.99 534.17A9.7 9.7 0 0 0 620.65 534.46ZM618.21 537.07A12.7 12.7 0 0 1 616.13 536.31L617.4 533.59A9.7 9.7 0 0 0 618.99 534.17ZM616.13 536.31A12.7 12.7 0 0 1 614.22 535.2L615.94 532.75A9.7 9.7 0 0 0 617.4 533.59ZM614.22 535.2A12.7 12.7 0 0 1 612.52 533.78L614.64 531.66A9.7 9.7 0 0 0 615.94 532.75ZM612.52 533.78A12.7 12.7 0 0 1 611.1 532.08L613.55 530.36A9.7 9.7 0 0 0 614.64 531.66ZM611.1 532.08A12.7 12.7 0 0 1 609.99 530.17L612.71 528.9A9.7 9.7 0 0 0 613.55 530.36ZM609.99 530.17A12.7 12.7 0 0 1 609.23 528.09L612.13 527.31A9.7 9.7 0 0 0 612.71 528.9ZM609.23 528.09A12.7 12.7 0 0 1 608.85 525.91L611.84 525.65A9.7 9.7 0 0 0 612.13 527.31ZM608.85 525.91A12.7 12.7 0 0 1 608.85 523.69L611.84 523.95A9.7 9.7 0 0 0 611.84 525.65ZM608.85 523.69A12.7 12.7 0 0 1 609.23 521.51L612.13 522.29A9.7 9.7 0 0 0 611.84 523.95ZM609.23 521.51A12.7 12.7 0 0 1 609.99 519.43L612.71 520.7A9.7 9.7 0 0 0 612.13 522.29ZM609.99 519.43A12.7 12.7 0 0 1 611.1 517.52L613.55 519.24A9.7 9.7 0 0 0 612.71 520.7ZM611.1 517.52A12.7 12.7 0 0 1 612.52 515.82L614.64 517.94A9.7 9.7 0 0 0 613.55 519.24ZM612.52 515.82A12.7 12.7 0 0 1 614.22 514.4L615.94 516.85A9.7 9.7 0 0 0 614.64 517.94ZM614.22 514.4A12.7 12.7 0 0 1 616.13 513.29L617.4 516.01A9.7 9.7 0 0 0 615.94 516.85ZM616.13 513.29A12.7 12.7 0 0 1 618.21 512.53L618.99 515.43A9.7 9.7 0 0 0 617.4 516.01ZM618.21 512.53A12.7 12.7 0 0 1 620.39 512.15L620.65 515.14A9.7 9.7 0 0 0 618.99 515.43Z"/>
<path class="b" fill="#3355b2" stroke="#243d80" d="M619.65 503.68A21.2 21.2 0 0 1 623.35 503.68L622.61 512.15A12.7 12.7 0 0 0 620.39 512.15ZM623.5 501.89A23 23 0 0 1 627.45 502.58L624.79 512.53A12.7 12.7 0 0 0 622.61 512.15ZM627.84 501.13A24.5 24.5 0 0 1 631.85 502.6L626.87 513.29A12.7 12.7 0 0 0 624.79 512.53ZM632.66 500.87A26.4 26.4 0 0 1 636.64 503.17L628.78 514.4A12.7 12.7 0 0 0 626.87 513.29ZM637.27 502.27A27.5 27.5 0 0 1 640.95 505.35L630.48 515.82A12.7 12.7 0 0 0 628.78 514.4ZM641.51 504.79A28.3 28.3 0 0 1 644.68 508.57L631.9 517.52A12.7 12.7 0 0 0 630.48 515.82ZM648.53 505.87A33 33 0 0 1 651.41 510.85L633.01 519.43A12.7 12.7 0 0 0 631.9 517.52ZM652.13 510.52A33.8 33.8 0 0 1 654.15 516.05L633.77 521.51A12.7 12.7 0 0 0 633.01 519.43ZM651.44 516.78A31 31 0 0 1 652.38 522.1L634.15 523.69A12.7 12.7 0 0 0 633.77 521.51ZM650.49 522.26A29.1 29.1 0 0 1 650.49 527.34L634.15 525.91A12.7 12.7 0 0 0 634.15 523.69ZM649.39 527.24A28 28 0 0 1 648.55 532.05L633.77 528.09A12.7 12.7 0 0 0 634.15 525.91ZM647.48 531.76A26.9 26.9 0 0 1 645.88 536.17L633.01 530.17A12.7 12.7 0 0 0 633.77 528.09ZM644.61 535.58A25.5 25.5 0 0 1 642.39 539.43L631.9 532.08A12.7 12.7 0 0 0 633.01 530.17ZM640.5 538.11A23.2 23.2 0 0 1 637.9 541.2L630.48 533.78A12.7 12.7 0 0 0 631.9 532.08ZM636.7 540A21.5 21.5 0 0 1 633.83 542.41L628.78 535.2A12.7 12.7 0 0 0 630.48 533.78ZM633.83 542.41A21.5 21.5 0 0 1 630.59 544.29L626.87 536.31A12.7 12.7 0 0 0 628.78 535.2ZM629.87 542.74A19.8 19.8 0 0 1 626.62 543.93L624.79 537.07A12.7 12.7 0 0 0 626.87 536.31ZM626.62 543.93A19.8 19.8 0 0 1 623.23 544.52L622.61 537.45A12.7 12.7 0 0 0 624.79 537.07ZM623.23 544.52A19.8 19.8 0 0 1 619.77 544.52L620.39 537.45A12.7 12.7 0 0 0 622.61 537.45ZM619.77 544.52A19.8 19.8 0 0 1 616.38 543.93L618.21 537.07A12.7 12.7 0 0 0 620.39 537.45ZM616.38 543.93A19.8 19.8 0 0 1 613.13 542.74L616.13 536.31A12.7 12.7 0 0 0 618.21 537.07ZM612.46 544.19A21.4 21.4 0 0 1 609.23 542.33L614.22 535.2A12.7 12.7 0 0 0 616.13 536.31ZM609.23 542.33A21.4 21.4 0 0 1 606.37 539.93L612.52 533.78A12.7 12.7 0 0 0 614.22 535.2ZM606.37 539.93A21.4 21.4 0 0 1 603.97 537.07L611.1 532.08A12.7 12.7 0 0 0 612.52 533.78ZM602.33 538.22A23.4 23.4 0 0 1 600.29 534.69L609.99 530.17A12.7 12.7 0 0 0 611.1 532.08ZM599.39 535.11A24.4 24.4 0 0 1 597.93 531.12L609.23 528.09A12.7 12.7 0 0 0 609.99 530.17ZM597.83 531.14A24.5 24.5 0 0 1 597.09 526.94L608.85 525.91A12.7 12.7 0 0 0 609.23 528.09ZM597.09 526.94A24.5 24.5 0 0 1 597.09 522.66L608.85 523.69A12.7 12.7 0 0 0 608.85 525.91ZM597.29 522.68A24.3 24.3 0 0 1 598.03 518.51L609.23 521.51A12.7 12.7 0 0 0 608.85 523.69ZM598.8 518.72A23.5 23.5 0 0 1 600.2 514.87L609.99 519.43A12.7 12.7 0 0 0 609.23 521.51ZM600.2 514.87A23.5 23.5 0 0 1 602.25 511.32L611.1 517.52A12.7 12.7 0 0 0 609.99 519.43ZM603.31 512.07A22.2 22.2 0 0 1 605.8 509.1L612.52 515.82A12.7 12.7 0 0 0 611.1 517.52ZM605.8 509.1A22.2 22.2 0 0 1 608.77 506.61L614.22 514.4A12.7 12.7 0 0 0 612.52 515.82ZM609.05 507.02A21.7 21.7 0 0 1 612.33 505.13L616.13 513.29A12.7 12.7 0 0 0 614.22 514.4ZM612.33 505.13A21.7 21.7 0 0 1 615.88 503.84L618.21 512.53A12.7 12.7 0 0 0 616.13 513.29ZM615.88 503.84A21.7 21.7 0 0 1 619.61 503.18L620.39 512.15A12.7 12.7 0 0 0 618.21 512.53Z"/>
<path class="b" fill="#2878c8" stroke="#1c5690" d="M618.43 489.73A35.2 35.2 0 0 1 624.57 489.73L623.35 503.68A21.2 21.2 0 0 0 619.65 503.68ZM624.79 487.24A37.7 37.7 0 0 1 631.26 488.38L627.45 502.58A23 23 0 0 0 623.5 501.89ZM631.9 485.97A40.2 40.2 0 0 1 638.49 488.37L631.85 502.6A24.5 24.5 0 0 0 627.84 501.13ZM639.59 486.01A42.8 42.8 0 0 1 646.05 489.74L636.64 503.17A26.4 26.4 0 0 0 632.66 500.87ZM647.31 487.94A45 45 0 0 1 653.32 492.98L640.95 505.35A27.5 27.5 0 0 0 637.27 502.27ZM655.79 490.51A48.5 48.5 0 0 1 661.23 496.98L644.68 508.57A28.3 28.3 0 0 0 641.51 504.79ZM671.71 489.64A61.3 61.3 0 0 1 677.06 498.89L651.41 510.85A33 33 0 0 0 648.53 505.87ZM684.94 495.22A70 70 0 0 1 689.11 506.68L654.15 516.05A33.8 33.8 0 0 0 652.13 510.52ZM681.48 508.73A62.1 62.1 0 0 1 683.36 519.39L652.38 522.1A31 31 0 0 0 651.44 516.78ZM671.91 520.39A50.6 50.6 0 0 1 671.91 529.21L650.49 527.34A29.1 29.1 0 0 0 650.49 522.26ZM666.33 528.72A45 45 0 0 1 664.97 536.45L648.55 532.05A28 28 0 0 0 649.39 527.24ZM664 536.19A44 44 0 0 1 661.38 543.4L645.88 536.17A26.9 26.9 0 0 0 647.48 531.76ZM655.31 540.56A37.3 37.3 0 0 1 652.05 546.19L642.39 539.43A25.5 25.5 0 0 0 644.61 535.58ZM650.17 544.88A35 35 0 0 1 646.25 549.55L637.9 541.2A23.2 23.2 0 0 0 640.5 538.11ZM644.69 547.99A32.8 32.8 0 0 1 640.31 551.67L633.83 542.41A21.5 21.5 0 0 0 636.7 540ZM639.17 550.03A30.8 30.8 0 0 1 634.52 552.71L630.59 544.29A21.5 21.5 0 0 0 633.83 542.41ZM634.31 552.26A30.3 30.3 0 0 1 629.34 554.07L626.62 543.93A19.8 19.8 0 0 0 629.87 542.74ZM629.21 553.58A29.8 29.8 0 0 1 624.1 554.49L623.23 544.52A19.8 19.8 0 0 0 626.62 543.93ZM624.06 554.09A29.4 29.4 0 0 1 618.94 554.09L619.77 544.52A19.8 19.8 0 0 0 623.23 544.52ZM618.84 555.18A30.5 30.5 0 0 1 613.61 554.26L616.38 543.93A19.8 19.8 0 0 0 619.77 544.52ZM613.35 555.23A31.5 31.5 0 0 1 608.19 553.35L613.13 542.74A19.8 19.8 0 0 0 616.38 543.93ZM607.55 554.71A33 33 0 0 1 602.57 551.83L609.23 542.33A21.4 21.4 0 0 0 612.46 544.19ZM602.17 552.41A33.7 33.7 0 0 1 597.67 548.63L606.37 539.93A21.4 21.4 0 0 0 609.23 542.33ZM596.75 549.55A35 35 0 0 1 592.83 544.88L603.97 537.07A21.4 21.4 0 0 0 606.37 539.93ZM589.96 546.88A38.5 38.5 0 0 1 586.61 541.07L600.29 534.69A23.4 23.4 0 0 0 602.33 538.22ZM584.7 541.96A40.6 40.6 0 0 1 582.28 535.31L597.93 531.12A24.4 24.4 0 0 0 599.39 535.11ZM582.67 535.2A40.2 40.2 0 0 1 581.45 528.3L597.09 526.94A24.5 24.5 0 0 0 597.83 531.14ZM582.85 528.18A38.8 38.8 0 0 1 582.85 521.42L597.09 522.66A24.5 24.5 0 0 0 597.09 526.94ZM583.45 521.47A38.2 38.2 0 0 1 584.6 514.91L598.03 518.51A24.3 24.3 0 0 0 597.29 522.68ZM584.6 514.91A38.2 38.2 0 0 1 586.88 508.66L600.2 514.87A23.5 23.5 0 0 0 598.8 518.72ZM587.97 509.16A37 37 0 0 1 591.19 503.58L602.25 511.32A23.5 23.5 0 0 0 600.2 514.87ZM592.01 504.15A36 36 0 0 1 596.04 499.34L605.8 509.1A22.2 22.2 0 0 0 603.31 512.07ZM597.25 500.55A34.3 34.3 0 0 1 601.83 496.7L608.77 506.61A22.2 22.2 0 0 0 605.8 509.1ZM602.63 497.85A32.9 32.9 0 0 1 607.6 494.98L612.33 505.13A21.7 21.7 0 0 0 609.05 507.02ZM607.43 494.62A33.3 33.3 0 0 1 612.88 492.63L615.88 503.84A21.7 21.7 0 0 0 612.33 505.13ZM612.65 491.77A34.2 34.2 0 0 1 618.52 490.73L619.61 503.18A21.7 21.7 0 0 0 615.88 503.84Z"/>
<path class="b" fill="#44c0da" stroke="#308a9c" d="M617.19 475.49A49.5 49.5 0 0 1 625.81 475.49L624.57 489.73A35.2 35.2 0 0 0 618.43 489.73ZM626.2 471.11A53.9 53.9 0 0 1 635.45 472.74L631.26 488.38A37.7 37.7 0 0 0 624.79 487.24ZM636.15 470.13A56.6 56.6 0 0 1 645.42 473.5L638.49 488.37A40.2 40.2 0 0 0 631.9 485.97ZM647.41 469.24A61.3 61.3 0 0 1 656.66 474.59L646.05 489.74A42.8 42.8 0 0 0 639.59 486.01ZM657.35 473.6A62.5 62.5 0 0 1 665.69 480.61L653.32 492.98A45 45 0 0 0 647.31 487.94ZM669.09 477.21A67.3 67.3 0 0 1 676.63 486.2L661.23 496.98A48.5 48.5 0 0 0 655.79 490.51ZM692.6 475.01A86.8 86.8 0 0 1 700.17 488.12L677.06 498.89A61.3 61.3 0 0 0 671.71 489.64ZM714.31 481.52A102.4 102.4 0 0 1 720.41 498.3L689.11 506.68A70 70 0 0 0 684.94 495.22ZM706.12 502.13A87.6 87.6 0 0 1 708.77 517.17L683.36 519.39A62.1 62.1 0 0 0 681.48 508.73ZM690.74 518.74A69.5 69.5 0 0 1 690.74 530.86L671.91 529.21A50.6 50.6 0 0 0 671.91 520.39ZM681.87 530.08A60.6 60.6 0 0 1 680.04 540.48L664.97 536.45A45 45 0 0 0 666.33 528.72ZM678.49 540.07A59 59 0 0 1 674.97 549.73L661.38 543.4A44 44 0 0 0 664 536.19ZM665.91 545.51A49 49 0 0 1 661.64 552.91L652.05 546.19A37.3 37.3 0 0 0 655.31 540.56ZM658.85 550.96A45.6 45.6 0 0 1 653.74 557.04L646.25 549.55A35 35 0 0 0 650.17 544.88ZM649.57 552.87A39.7 39.7 0 0 1 644.27 557.32L640.31 551.67A32.8 32.8 0 0 0 644.69 547.99ZM642.72 555.11A37 37 0 0 1 637.14 558.33L634.52 552.71A30.8 30.8 0 0 0 639.17 550.03ZM636.76 557.52A36.1 36.1 0 0 1 630.84 559.67L629.34 554.07A30.3 30.3 0 0 0 634.31 552.26ZM630.48 558.32A34.7 34.7 0 0 1 624.52 559.37L624.1 554.49A29.8 29.8 0 0 0 629.21 553.58ZM624.57 559.87A35.2 35.2 0 0 1 618.43 559.87L618.94 554.09A29.4 29.4 0 0 0 624.06 554.09ZM618.47 559.47A34.8 34.8 0 0 1 612.49 558.41L613.61 554.26A30.5 30.5 0 0 0 618.84 555.18ZM612.44 558.61A35 35 0 0 1 606.71 556.52L608.19 553.35A31.5 31.5 0 0 0 613.35 555.23ZM606.2 557.61A36.2 36.2 0 0 1 600.74 554.45L602.57 551.83A33 33 0 0 0 607.55 554.71ZM600.51 554.78A36.6 36.6 0 0 1 595.62 550.68L597.67 548.63A33.7 33.7 0 0 0 602.17 552.41ZM594.91 551.39A37.6 37.6 0 0 1 590.7 546.37L592.83 544.88A35 35 0 0 0 596.75 549.55ZM585.87 549.75A43.5 43.5 0 0 1 582.08 543.18L586.61 541.07A38.5 38.5 0 0 0 589.96 546.88ZM577 545.55A49.1 49.1 0 0 1 574.07 537.51L582.28 535.31A40.6 40.6 0 0 0 584.7 541.96ZM572.04 538.05A51.2 51.2 0 0 1 570.49 529.26L581.45 528.3A40.2 40.2 0 0 0 582.67 535.2ZM576.57 528.73A45.1 45.1 0 0 1 576.57 520.87L582.85 521.42A38.8 38.8 0 0 0 582.85 528.18ZM577.07 520.91A44.6 44.6 0 0 1 578.42 513.26L584.6 514.91A38.2 38.2 0 0 0 583.45 521.47ZM578.52 513.28A44.5 44.5 0 0 1 581.17 505.99L586.88 508.66A38.2 38.2 0 0 0 584.6 514.91ZM582.71 506.71A42.8 42.8 0 0 1 586.44 500.25L591.19 503.58A37 37 0 0 0 587.97 509.16ZM587.75 501.17A41.2 41.2 0 0 1 592.37 495.67L596.04 499.34A36 36 0 0 0 592.01 504.15ZM593.22 496.52A40 40 0 0 1 598.56 492.03L601.83 496.7A34.3 34.3 0 0 0 597.25 500.55ZM598.16 491.46A40.7 40.7 0 0 1 604.3 487.91L607.6 494.98A32.9 32.9 0 0 0 602.63 497.85ZM604.34 488A40.6 40.6 0 0 1 610.99 485.58L612.88 492.63A33.3 33.3 0 0 0 607.43 494.62ZM610.47 483.65A42.6 42.6 0 0 1 617.79 482.36L618.52 490.73A34.2 34.2 0 0 0 612.65 491.77Z"/>
<path class="b" fill="#82c062" stroke="#5d8a46" d="M616.37 466.12A58.9 58.9 0 0 1 626.63 466.12L625.81 475.49A49.5 49.5 0 0 0 617.19 475.49ZM627.04 461.44A63.6 63.6 0 0 1 637.96 463.37L635.45 472.74A53.9 53.9 0 0 0 626.2 471.11ZM639.64 457.09A70.1 70.1 0 0 1 651.13 461.27L645.42 473.5A56.6 56.6 0 0 0 636.15 470.13ZM654.17 454.74A77.3 77.3 0 0 1 665.84 461.48L656.66 474.59A61.3 61.3 0 0 0 647.41 469.24ZM666.18 460.99A77.9 77.9 0 0 1 676.58 469.72L665.69 480.61A62.5 62.5 0 0 0 657.35 473.6ZM680.4 465.9A83.3 83.3 0 0 1 689.74 477.02L676.63 486.2A67.3 67.3 0 0 0 669.09 477.21ZM707.92 464.29A105.5 105.5 0 0 1 717.12 480.21L700.17 488.12A86.8 86.8 0 0 0 692.6 475.01ZM734.79 471.97A125 125 0 0 1 742.24 492.45L720.41 498.3A102.4 102.4 0 0 0 714.31 481.52ZM720.31 498.32A102.3 102.3 0 0 1 723.41 515.88L708.77 517.17A87.6 87.6 0 0 0 706.12 502.13ZM698.9 518.03A77.7 77.7 0 0 1 698.9 531.57L690.74 530.86A69.5 69.5 0 0 0 690.74 518.74ZM686.45 530.48A65.2 65.2 0 0 1 684.48 541.68L680.04 540.48A60.6 60.6 0 0 0 681.87 530.08ZM683.9 541.52A64.6 64.6 0 0 1 680.05 552.1L674.97 549.73A59 59 0 0 0 678.49 540.07ZM667.9 546.44A51.2 51.2 0 0 1 663.44 554.17L661.64 552.91A49 49 0 0 0 665.91 545.51ZM661.23 552.62A48.5 48.5 0 0 1 655.79 559.09L653.74 557.04A45.6 45.6 0 0 0 658.85 550.96ZM652.05 555.35A43.2 43.2 0 0 1 646.28 560.19L644.27 557.32A39.7 39.7 0 0 0 649.57 552.87ZM644.56 557.73A40.2 40.2 0 0 1 638.49 561.23L637.14 558.33A37 37 0 0 0 642.72 555.11ZM637.43 558.97A37.7 37.7 0 0 1 631.26 561.22L630.84 559.67A36.1 36.1 0 0 0 636.76 557.52ZM631.13 560.73A37.2 37.2 0 0 1 624.74 561.86L624.52 559.37A34.7 34.7 0 0 0 630.48 558.32ZM624.94 564.15A39.5 39.5 0 0 1 618.06 564.15L618.43 559.87A35.2 35.2 0 0 0 624.57 559.87ZM618.28 561.66A37 37 0 0 1 611.92 560.54L612.49 558.41A34.8 34.8 0 0 0 618.47 559.47ZM611.92 560.54A37 37 0 0 1 605.86 558.33L606.71 556.52A35 35 0 0 0 612.44 558.61ZM605.57 558.97A37.7 37.7 0 0 1 599.88 555.68L600.74 554.45A36.2 36.2 0 0 0 606.2 557.61ZM599.7 555.93A38 38 0 0 1 594.63 551.67L595.62 550.68A36.6 36.6 0 0 0 600.51 554.78ZM593.92 552.38A39 39 0 0 1 589.55 547.17L590.7 546.37A37.6 37.6 0 0 0 594.91 551.39ZM583.82 551.18A46 46 0 0 1 579.81 544.24L582.08 543.18A43.5 43.5 0 0 0 585.87 549.75ZM573.83 547.03A52.6 52.6 0 0 1 570.69 538.41L574.07 537.51A49.1 49.1 0 0 0 577 545.55ZM566.15 539.63A57.3 57.3 0 0 1 564.42 529.79L570.49 529.26A51.2 51.2 0 0 0 572.04 538.05ZM570.2 529.29A51.5 51.5 0 0 1 570.2 520.31L576.57 520.87A45.1 45.1 0 0 0 576.57 528.73ZM572.09 520.48A49.6 49.6 0 0 1 573.59 511.96L578.42 513.26A44.6 44.6 0 0 0 577.07 520.91ZM574.07 512.09A49.1 49.1 0 0 1 577 504.05L581.17 505.99A44.5 44.5 0 0 0 578.52 513.28ZM579.63 505.28A46.2 46.2 0 0 1 583.66 498.3L586.44 500.25A42.8 42.8 0 0 0 582.71 506.71ZM584.97 499.22A44.6 44.6 0 0 1 589.96 493.26L592.37 495.67A41.2 41.2 0 0 0 587.75 501.17ZM590.18 493.48A44.3 44.3 0 0 1 596.09 488.51L598.56 492.03A40 40 0 0 0 593.22 496.52ZM595.92 488.27A44.6 44.6 0 0 1 602.65 484.38L604.3 487.91A40.7 40.7 0 0 0 598.16 491.46ZM602.69 484.47A44.5 44.5 0 0 1 609.98 481.82L610.99 485.58A40.6 40.6 0 0 0 604.34 488ZM608.95 477.95A48.5 48.5 0 0 1 617.27 476.48L617.79 482.36A42.6 42.6 0 0 0 610.47 483.65Z"/>
<path class="b" fill="#f2e822" stroke="#aea718" d="M616.16 463.73A61.3 61.3 0 0 1 626.84 463.73L626.63 466.12A58.9 58.9 0 0 0 616.37 466.12ZM627.38 457.56A67.5 67.5 0 0 1 638.97 459.6L637.96 463.37A63.6 63.6 0 0 0 627.04 461.44ZM641.82 448.97A78.5 78.5 0 0 1 654.68 453.65L651.13 461.27A70.1 70.1 0 0 0 639.64 457.09ZM657.72 447.13A85.7 85.7 0 0 1 670.66 454.6L665.84 461.48A77.3 77.3 0 0 0 654.17 454.74ZM670.25 455.17A85 85 0 0 1 681.6 464.7L676.58 469.72A77.9 77.9 0 0 0 666.18 460.99ZM684.64 461.66A89.3 89.3 0 0 1 694.65 473.58L689.74 477.02A83.3 83.3 0 0 0 680.4 465.9ZM714.88 459.41A114 114 0 0 1 724.82 476.62L717.12 480.21A105.5 105.5 0 0 0 707.92 464.29ZM742.76 468.25A133.8 133.8 0 0 1 750.74 490.17L742.24 492.45A125 125 0 0 0 734.79 471.97ZM723.89 497.37A106 106 0 0 1 727.1 515.56L723.41 515.88A102.3 102.3 0 0 0 720.31 498.32ZM700.7 517.87A79.5 79.5 0 0 1 700.7 531.73L698.9 531.57A77.7 77.7 0 0 0 698.9 518.03ZM571.65 548.04A55 55 0 0 1 568.37 539.04L570.69 538.41A52.6 52.6 0 0 0 573.83 547.03ZM563.93 540.23A59.6 59.6 0 0 1 562.13 529.99L564.42 529.79A57.3 57.3 0 0 0 566.15 539.63ZM568.8 529.41A52.9 52.9 0 0 1 568.8 520.19L570.2 520.31A51.5 51.5 0 0 0 570.2 529.29ZM608.46 476.12A50.4 50.4 0 0 1 617.11 474.59L617.27 476.48A48.5 48.5 0 0 0 608.95 477.95Z"/>
<path fill="#f2e822" d="M686.95 530.53A65.7 65.7 0 0 1 684.96 541.8L684.48 541.68A65.2 65.2 0 0 0 686.45 530.48ZM684.67 541.73A65.4 65.4 0 0 1 680.77 552.44L680.05 552.1A64.6 64.6 0 0 0 683.9 541.52ZM668.36 546.65A51.7 51.7 0 0 1 663.85 554.45L663.44 554.17A51.2 51.2 0 0 0 667.9 546.44ZM661.64 552.91A49 49 0 0 1 656.15 559.45L655.79 559.09A48.5 48.5 0 0 0 661.23 552.62ZM652.33 555.63A43.6 43.6 0 0 1 646.51 560.52L646.28 560.19A43.2 43.2 0 0 0 652.05 555.35ZM644.79 558.06A40.6 40.6 0 0 1 638.66 561.6L638.49 561.23A40.2 40.2 0 0 0 644.56 557.73ZM637.56 559.24A38 38 0 0 1 631.34 561.51L631.26 561.22A37.7 37.7 0 0 0 637.43 558.97ZM631.23 561.12A37.6 37.6 0 0 1 624.78 562.26L624.74 561.86A37.2 37.2 0 0 0 631.13 560.73ZM624.99 564.75A40.1 40.1 0 0 1 618.01 564.75L618.06 564.15A39.5 39.5 0 0 0 624.94 564.15ZM618.24 562.06A37.4 37.4 0 0 1 611.82 560.93L611.92 560.54A37 37 0 0 0 618.28 561.66ZM611.82 560.93A37.4 37.4 0 0 1 605.69 558.7L605.86 558.33A37 37 0 0 0 611.92 560.54ZM605.4 559.33A38.1 38.1 0 0 1 599.65 556.01L599.88 555.68A37.7 37.7 0 0 0 605.57 558.97ZM599.47 556.26A38.4 38.4 0 0 1 594.35 551.95L594.63 551.67A38 38 0 0 0 599.7 555.93ZM593.64 552.66A39.4 39.4 0 0 1 589.23 547.4L589.55 547.17A39 39 0 0 0 593.92 552.38ZM583.57 551.36A46.3 46.3 0 0 1 579.54 544.37L579.81 544.24A46 46 0 0 0 583.82 551.18ZM571.69 520.44A50 50 0 0 1 573.2 511.86L573.59 511.96A49.6 49.6 0 0 0 572.09 520.48ZM573.69 511.99A49.5 49.5 0 0 1 576.64 503.88L577 504.05A49.1 49.1 0 0 0 574.07 512.09ZM579.27 505.11A46.6 46.6 0 0 1 583.33 498.07L583.66 498.3A46.2 46.2 0 0 0 579.63 505.28ZM584.64 498.99A45 45 0 0 1 589.68 492.98L589.96 493.26A44.6 44.6 0 0 0 584.97 499.22ZM589.82 493.12A44.8 44.8 0 0 1 595.8 488.1L596.09 488.51A44.3 44.3 0 0 0 590.18 493.48ZM595.63 487.86A45.1 45.1 0 0 1 602.44 483.93L602.65 484.38A44.6 44.6 0 0 0 595.92 488.27ZM602.48 484.02A45 45 0 0 1 609.85 481.33L609.98 481.82A44.5 44.5 0 0 0 602.69 484.47Z"/>
<path class="b" fill="#f08230" stroke="#ac5d22" d="M627.48 456.46A68.6 68.6 0 0 1 639.25 458.54L638.97 459.6A67.5 67.5 0 0 0 627.38 457.56ZM642.18 447.62A79.9 79.9 0 0 1 655.27 452.39L654.68 453.65A78.5 78.5 0 0 0 641.82 448.97ZM658.52 445.41A87.6 87.6 0 0 1 671.75 453.04L670.66 454.6A85.7 85.7 0 0 0 657.72 447.13ZM671.11 453.94A86.5 86.5 0 0 1 682.66 463.64L681.6 464.7A85 85 0 0 0 670.25 455.17ZM685.99 460.31A91.2 91.2 0 0 1 696.21 472.49L694.65 473.58A89.3 89.3 0 0 0 684.64 461.66ZM717.01 457.92A116.6 116.6 0 0 1 727.18 475.52L724.82 476.62A114 114 0 0 0 714.88 459.41ZM744.76 467.32A136 136 0 0 1 752.87 489.6L750.74 490.17A133.8 133.8 0 0 0 742.76 468.25ZM725.24 497A107.4 107.4 0 0 1 728.49 515.44L727.1 515.56A106 106 0 0 0 723.89 497.37ZM701.59 517.79A80.4 80.4 0 0 1 701.59 531.81L700.7 531.73A79.5 79.5 0 0 0 700.7 517.87Z"/>
<path fill="#f08230" d="M616.11 463.14A61.9 61.9 0 0 1 626.89 463.14L626.84 463.73A61.3 61.3 0 0 0 616.16 463.73ZM687.65 530.59A66.4 66.4 0 0 1 685.64 541.99L684.96 541.8A65.7 65.7 0 0 0 686.95 530.53ZM685.54 541.96A66.3 66.3 0 0 1 681.59 552.82L680.77 552.44A65.4 65.4 0 0 0 684.67 541.73ZM668.9 546.9A52.3 52.3 0 0 1 664.34 554.8L663.85 554.45A51.7 51.7 0 0 0 668.36 546.65ZM662.05 553.19A49.5 49.5 0 0 1 656.5 559.8L656.15 559.45A49 49 0 0 0 661.64 552.91ZM652.68 555.98A44.1 44.1 0 0 1 646.79 560.92L646.51 560.52A43.6 43.6 0 0 0 652.33 555.63ZM645.07 558.47A41.1 41.1 0 0 1 638.87 562.05L638.66 561.6A40.6 40.6 0 0 0 644.79 558.06ZM637.73 559.6A38.4 38.4 0 0 1 631.44 561.89L631.34 561.51A38 38 0 0 0 637.56 559.24ZM631.34 561.51A38 38 0 0 1 624.81 562.66L624.78 562.26A37.6 37.6 0 0 0 631.23 561.12ZM625.04 565.25A40.6 40.6 0 0 1 617.96 565.25L618.01 564.75A40.1 40.1 0 0 0 624.99 564.75ZM618.2 562.56A37.9 37.9 0 0 1 611.69 561.41L611.82 560.93A37.4 37.4 0 0 0 618.24 562.06ZM611.69 561.41A37.9 37.9 0 0 1 605.48 559.15L605.69 558.7A37.4 37.4 0 0 0 611.82 560.93ZM605.23 559.69A38.5 38.5 0 0 1 599.42 556.34L599.65 556.01A38.1 38.1 0 0 0 605.4 559.33ZM599.19 556.67A38.9 38.9 0 0 1 593.99 552.31L594.35 551.95A38.4 38.4 0 0 0 599.47 556.26ZM593.36 552.94A39.8 39.8 0 0 1 588.9 547.63L589.23 547.4A39.4 39.4 0 0 0 593.64 552.66ZM583.25 551.59A46.7 46.7 0 0 1 579.18 544.54L579.54 544.37A46.3 46.3 0 0 0 583.57 551.36ZM571.02 548.34A55.7 55.7 0 0 1 567.7 539.22L568.37 539.04A55 55 0 0 0 571.65 548.04ZM563.16 540.43A60.4 60.4 0 0 1 561.33 530.06L562.13 529.99A59.6 59.6 0 0 0 563.93 540.23ZM567.9 529.49A53.8 53.8 0 0 1 567.9 520.11L568.8 520.19A52.9 52.9 0 0 0 568.8 529.41ZM571.29 520.41A50.4 50.4 0 0 1 572.82 511.76L573.2 511.86A50 50 0 0 0 571.69 520.44ZM573.3 511.88A49.9 49.9 0 0 1 576.28 503.71L576.64 503.88A49.5 49.5 0 0 0 573.69 511.99ZM578.9 504.94A47 47 0 0 1 583 497.84L583.33 498.07A46.6 46.6 0 0 0 579.27 505.11ZM584.31 498.76A45.4 45.4 0 0 1 589.4 492.7L589.68 492.98A45 45 0 0 0 584.64 498.99ZM589.54 492.84A45.2 45.2 0 0 1 595.57 487.77L595.8 488.1A44.8 44.8 0 0 0 589.82 493.12ZM595.4 487.53A45.5 45.5 0 0 1 602.27 483.56L602.44 483.93A45.1 45.1 0 0 0 595.63 487.86ZM602.31 483.65A45.4 45.4 0 0 1 609.75 480.95L609.85 481.33A45 45 0 0 0 602.48 484.02ZM608.27 475.44A51.1 51.1 0 0 1 617.05 473.89L617.11 474.59A50.4 50.4 0 0 0 608.46 476.12Z"/>
<path fill="#e3121e" d="M717.59 457.52A117.3 117.3 0 0 1 727.81 475.23L727.18 475.52A116.6 116.6 0 0 0 717.01 457.92ZM745.21 467.11A136.5 136.5 0 0 1 753.35 489.47L752.87 489.6A136 136 0 0 0 744.76 467.32ZM570.66 548.51A56.1 56.1 0 0 1 567.31 539.32L567.7 539.22A55.7 55.7 0 0 0 571.02 548.34ZM562.58 540.59A61 61 0 0 1 560.73 530.12L561.33 530.06A60.4 60.4 0 0 0 563.16 540.43ZM567.31 529.54A54.4 54.4 0 0 1 567.31 520.06L567.9 520.11A53.8 53.8 0 0 0 567.9 529.49Z"/>
<circle class="g" cx="621.5" cy="524.8" r="38.51"/>
<circle class="g" cx="621.5" cy="524.8" r="67.32"/>
<circle class="g" cx="621.5" cy="524.8" r="96.13"/>
<circle class="g" cx="621.5" cy="524.8" r="124.94"/>
<path class="g" d="M621.5 515.1L621.5 371.05M626.35 516.4L698.38 391.65M629.9 519.95L754.65 447.92M631.2 524.8L775.25 524.8M629.9 529.65L754.65 601.67M626.35 533.2L698.38 657.95M621.5 534.5L621.5 678.55M616.65 533.2L544.62 657.95M613.1 529.65L488.35 601.68M611.8 524.8L467.75 524.8M613.1 519.95L488.35 447.92M616.65 516.4L544.62 391.65"/>
<circle cx="621.5" cy="524.8" r="9.7" fill="#fff"/>
<circle cx="621.5" cy="524.8" r="153.75" fill="none" stroke="#2a2a2a" stroke-width="0.9"/>
<text class="c" transform="translate(620.9 367.45) scale(.93 1)">N</text>
<text class="c" transform="translate(620.3 690.65) scale(.93 1)">S</text>
<text class="c" transform="translate(781.4 529.4) scale(.93 1)">E</text>
<text class="c" transform="translate(456.3 529.4) scale(.93 1)">W</text>
<text class="z" transform="translate(623.8 526.4) scale(.9 1)">0%</text>
<text class="p" transform="translate(596.35 488.65) scale(.94 1)">1.6%</text>
<text class="p" transform="translate(581.94 463.7) scale(.94 1)">3.2%</text>
<text class="p" transform="translate(567.53 438.75) scale(.94 1)">4.8%</text>
<text class="p" transform="translate(553.13 413.8) scale(.94 1)">6.4%</text>
<text class="p" transform="translate(540.92 388.65) scale(.94 1)">8%</text>
</g>
<text class="l" transform="scale(0.977 1)"><tspan x="36.23" y="11.5">Stokes drift [ms</tspan> <tspan class="u" x="108.7" y="6.3">-1</tspan> <tspan x="117.3" y="11.5">]</tspan></text>
<g>
<rect x="6.1" y="16.1" width="27.2" height="13.1" fill="#861417"/>
<text class="l" transform="scale(0.93 1)"><tspan x="38.39" y="23.9">U</tspan> <tspan class="s" x="46.99" y="29.5">S</tspan> <tspan class="m" x="57.1" y="24.5">≥</tspan> <tspan x="68.39" y="23.9">0.3</tspan></text>
<rect x="6.1" y="33.85" width="27.2" height="13.1" fill="#e3281e"/>
<text class="l" transform="scale(0.93 1)"><tspan x="38.17" y="41.65">0.25</tspan> <tspan class="m" x="67.96" y="42.25">≤</tspan> <tspan x="79.35" y="41.65">U</tspan> <tspan class="s" x="88.82" y="47.25">S</tspan> <tspan x="97.42" y="41.65">&lt;</tspan> <tspan x="106.34" y="41.65">0.3</tspan></text>
<rect x="6.1" y="51.6" width="27.2" height="13.1" fill="#ffd504"/>
<text class="l" transform="scale(0.93 1)"><tspan x="38.17" y="59.4">0.2</tspan> <tspan class="m" x="60.86" y="60">≤</tspan> <tspan x="72.58" y="59.4">U</tspan> <tspan class="s" x="81.72" y="65">S</tspan> <tspan x="90.22" y="59.4">&lt;</tspan> <tspan x="98.82" y="59.4">0.25</tspan></text>
<rect x="6.1" y="69.35" width="27.2" height="13.1" fill="#82be62"/>
<text class="l" transform="scale(0.93 1)"><tspan x="38.17" y="77.15">0.15</tspan> <tspan class="m" x="67.96" y="77.75">≤</tspan> <tspan x="79.35" y="77.15">U</tspan> <tspan class="s" x="88.82" y="82.75">S</tspan> <tspan x="97.42" y="77.15">&lt;</tspan> <tspan x="106.34" y="77.15">0.2</tspan></text>
<rect x="6.1" y="87.1" width="27.2" height="13.1" fill="#2fb4e6"/>
<text class="l" transform="scale(0.93 1)"><tspan x="38.17" y="94.9">0.1</tspan> <tspan class="m" x="60.86" y="95.5">≤</tspan> <tspan x="72.58" y="94.9">U</tspan> <tspan class="s" x="81.72" y="100.5">S</tspan> <tspan x="90.22" y="94.9">&lt;</tspan> <tspan x="98.82" y="94.9">0.15</tspan></text>
<rect x="6.1" y="104.85" width="27.2" height="13.1" fill="#3a5fb5"/>
<text class="l" transform="scale(0.93 1)"><tspan x="38.17" y="112.65">0.05</tspan> <tspan class="m" x="67.96" y="113.25">≤</tspan> <tspan x="79.35" y="112.65">U</tspan> <tspan class="s" x="88.82" y="118.25">S</tspan> <tspan x="97.42" y="112.65">&lt;</tspan> <tspan x="106.34" y="112.65">0.1</tspan></text>
<rect x="6.1" y="122.6" width="27.2" height="13.1" fill="#282a7c"/>
<text class="l" transform="scale(0.93 1)"><tspan x="38.17" y="130.4">0</tspan> <tspan class="m" x="50.43" y="131">≤</tspan> <tspan x="61.72" y="130.4">U</tspan> <tspan class="s" x="71.18" y="136">S</tspan> <tspan x="80" y="130.4">&lt;</tspan> <tspan x="88.6" y="130.4">0.05</tspan></text>
</g>
<text class="l" transform="scale(0.966 1)"><tspan x="33.75" y="354.7">Wind speed [ms</tspan> <tspan class="u" x="109.63" y="349.5">-1</tspan> <tspan x="118.43" y="354.7">]</tspan></text>
<g>
<rect x="1.2" y="359.6" width="28.5" height="12.3" fill="#7c1018"/>
<text class="l" transform="scale(0.93 1)"><tspan x="34.95" y="367.2">W</tspan> <tspan class="s" x="46.13" y="372.8">S</tspan> <tspan class="m" x="56.24" y="367.8">≥</tspan> <tspan x="68.06" y="367.2">20</tspan></text>
<rect x="1.2" y="377.35" width="28.5" height="12.3" fill="#e3121e"/>
<text class="l" transform="scale(0.93 1)"><tspan x="34.95" y="384.95">17.5</tspan> <tspan class="m" x="64.52" y="385.55">≤</tspan> <tspan x="76.02" y="384.95">W</tspan> <tspan class="s" x="88.06" y="390.55">S</tspan> <tspan x="96.88" y="384.95">&lt;</tspan> <tspan x="105.7" y="384.95">20</tspan></text>
<rect x="1.2" y="395.1" width="28.5" height="12.3" fill="#f08230"/>
<text class="l" transform="scale(0.93 1)"><tspan x="34.95" y="402.7">15</tspan> <tspan class="m" x="53.76" y="403.3">≤</tspan> <tspan x="64.84" y="402.7">W</tspan> <tspan class="s" x="77.31" y="408.3">S</tspan> <tspan x="85.91" y="402.7">&lt;</tspan> <tspan x="94.95" y="402.7">17.5</tspan></text>
<rect x="1.2" y="412.85" width="28.5" height="12.3" fill="#f2e822"/>
<text class="l" transform="scale(0.93 1)"><tspan x="34.95" y="420.45">12.5</tspan> <tspan class="m" x="64.52" y="421.05">≤</tspan> <tspan x="76.02" y="420.45">W</tspan> <tspan class="s" x="88.06" y="426.05">S</tspan> <tspan x="96.88" y="420.45">&lt;</tspan> <tspan x="105.7" y="420.45">15</tspan></text>
<rect x="1.2" y="430.6" width="28.5" height="12.3" fill="#82c062"/>
<text class="l" transform="scale(0.93 1)"><tspan x="34.95" y="438.2">10</tspan> <tspan class="m" x="53.76" y="438.8">≤</tspan> <tspan x="64.84" y="438.2">W</tspan> <tspan class="s" x="77.31" y="443.8">S</tspan> <tspan x="85.91" y="438.2">&lt;</tspan> <tspan x="94.95" y="438.2">12.5</tspan></text>
<rect x="1.2" y="448.35" width="28.5" height="12.3" fill="#44c0da"/>
<text class="l" transform="scale(0.93 1)"><tspan x="34.95" y="455.95">7.5</tspan> <tspan class="m" x="57.74" y="456.55">≤</tspan> <tspan x="68.39" y="455.95">W</tspan> <tspan class="s" x="81.61" y="461.55">S</tspan> <tspan x="89.35" y="455.95">&lt;</tspan> <tspan x="97.85" y="455.95">10</tspan></text>
<rect x="1.2" y="466.1" width="28.5" height="12.3" fill="#2878c8"/>
<text class="l" transform="scale(0.93 1)"><tspan x="34.95" y="473.7">5</tspan> <tspan class="m" x="46.45" y="474.3">≤</tspan> <tspan x="57.2" y="473.7">W</tspan> <tspan class="s" x="69.78" y="479.3">S</tspan> <tspan x="78.71" y="473.7">&lt;</tspan> <tspan x="87.2" y="473.7">7.5</tspan></text>
<rect x="1.2" y="483.85" width="28.5" height="12.3" fill="#3355b2"/>
<text class="l" transform="scale(0.93 1)"><tspan x="34.95" y="491.45">2.5</tspan> <tspan class="m" x="57.74" y="492.05">≤</tspan> <tspan x="68.39" y="491.45">W</tspan> <tspan class="s" x="81.61" y="497.05">S</tspan> <tspan x="89.35" y="491.45">&lt;</tspan> <tspan x="97.85" y="491.45">5</tspan></text>
<rect x="1.2" y="501.6" width="28.5" height="12.3" fill="#282a7c"/>
<text class="l" transform="scale(0.93 1)"><tspan x="34.95" y="509.2">0</tspan> <tspan class="m" x="46.45" y="509.8">≤</tspan> <tspan x="57.2" y="509.2">W</tspan> <tspan class="s" x="69.78" y="514.8">S</tspan> <tspan x="78.71" y="509.2">&lt;</tspan> <tspan x="87.2" y="509.2">2.5</tspan></text>
</g>
</svg>
</body></html>
